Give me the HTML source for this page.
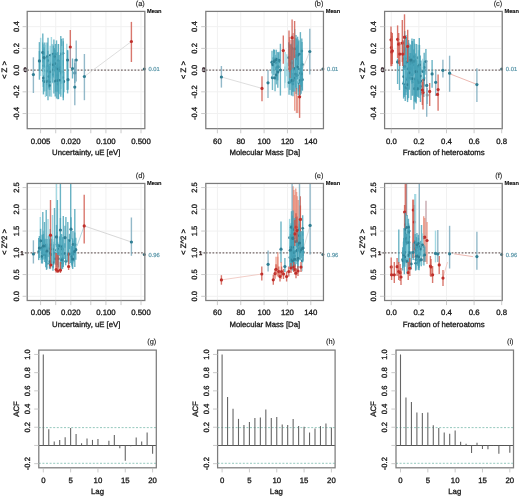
<!DOCTYPE html>
<html><head><meta charset="utf-8"><style>
html,body{margin:0;padding:0;background:#fff;}
svg{display:block;filter:blur(0.4px);text-rendering:geometricPrecision;}
</style></head><body>
<svg width="520" height="497" viewBox="0 0 520 497" font-family="'Liberation Sans', Arial, sans-serif">
<rect width="520" height="497" fill="#fff"/>
<line x1="40.60" y1="11.40" x2="40.60" y2="128.65" stroke="#f1f1f1" stroke-width="1"/>
<line x1="55.71" y1="11.40" x2="55.71" y2="128.65" stroke="#f1f1f1" stroke-width="1"/>
<line x1="70.82" y1="11.40" x2="70.82" y2="128.65" stroke="#f1f1f1" stroke-width="1"/>
<line x1="90.80" y1="11.40" x2="90.80" y2="128.65" stroke="#f1f1f1" stroke-width="1"/>
<line x1="105.91" y1="11.40" x2="105.91" y2="128.65" stroke="#f1f1f1" stroke-width="1"/>
<line x1="121.02" y1="11.40" x2="121.02" y2="128.65" stroke="#f1f1f1" stroke-width="1"/>
<line x1="141.00" y1="11.40" x2="141.00" y2="128.65" stroke="#f1f1f1" stroke-width="1"/>
<line x1="27.20" y1="113.54" x2="144.85" y2="113.54" stroke="#f1f1f1" stroke-width="1"/>
<line x1="27.20" y1="91.82" x2="144.85" y2="91.82" stroke="#f1f1f1" stroke-width="1"/>
<line x1="27.20" y1="70.10" x2="144.85" y2="70.10" stroke="#f1f1f1" stroke-width="1"/>
<line x1="27.20" y1="48.38" x2="144.85" y2="48.38" stroke="#f1f1f1" stroke-width="1"/>
<line x1="27.20" y1="26.66" x2="144.85" y2="26.66" stroke="#f1f1f1" stroke-width="1"/>
<line x1="27.20" y1="70.10" x2="144.85" y2="70.10" stroke="#756868" stroke-width="1.15" stroke-dasharray="1.7 1.65"/>
<text x="27.00" y="72.40" font-size="6.4" text-anchor="end" font-weight="bold" fill="#33222a" stroke="#33222a" stroke-width="0.5">0</text>
<circle cx="144.25" cy="69.01" r="1.5" fill="#3d6a75"/>
<text x="148.45" y="71.41" font-size="5.8" text-anchor="start" font-weight="normal" fill="#5694a7" stroke="#5694a7" stroke-width="0.2">0.01</text>
<line x1="84.40" y1="76.50" x2="131.40" y2="41.50" stroke="#dadada" stroke-width="0.9"/>
<line x1="45.82" y1="66.09" x2="45.82" y2="91.26" stroke="#46a1b7" stroke-width="1.4" stroke-opacity="0.82"/>
<circle cx="45.82" cy="80.97" r="1.3" fill="#2f7e93"/>
<line x1="52.44" y1="59.40" x2="52.44" y2="83.35" stroke="#8ccfdc" stroke-width="1.4" stroke-opacity="0.82"/>
<circle cx="52.44" cy="74.50" r="1.3" fill="#2f7e93"/>
<line x1="60.55" y1="52.42" x2="60.55" y2="75.30" stroke="#46a1b7" stroke-width="1.4" stroke-opacity="0.82"/>
<circle cx="60.55" cy="67.28" r="1.3" fill="#2f7e93"/>
<line x1="58.15" y1="44.04" x2="58.15" y2="76.66" stroke="#8ccfdc" stroke-width="1.4" stroke-opacity="0.82"/>
<circle cx="58.15" cy="60.55" r="1.3" fill="#2f7e93"/>
<line x1="43.53" y1="54.41" x2="43.53" y2="82.30" stroke="#46a1b7" stroke-width="1.4" stroke-opacity="0.82"/>
<circle cx="43.53" cy="70.87" r="1.3" fill="#2f7e93"/>
<line x1="51.86" y1="43.96" x2="51.86" y2="65.90" stroke="#46a1b7" stroke-width="1.4" stroke-opacity="0.82"/>
<circle cx="51.86" cy="53.96" r="1.3" fill="#2f7e93"/>
<line x1="47.89" y1="50.65" x2="47.89" y2="72.76" stroke="#46a1b7" stroke-width="1.4" stroke-opacity="0.82"/>
<circle cx="47.89" cy="60.62" r="1.3" fill="#2f7e93"/>
<line x1="43.45" y1="67.63" x2="43.45" y2="94.42" stroke="#46a1b7" stroke-width="1.4" stroke-opacity="0.82"/>
<circle cx="43.45" cy="80.64" r="1.3" fill="#2f7e93"/>
<line x1="63.84" y1="72.29" x2="63.84" y2="92.37" stroke="#46a1b7" stroke-width="1.4" stroke-opacity="0.82"/>
<circle cx="63.84" cy="81.38" r="1.3" fill="#2f7e93"/>
<line x1="57.94" y1="72.10" x2="57.94" y2="99.37" stroke="#46a1b7" stroke-width="1.4" stroke-opacity="0.82"/>
<circle cx="57.94" cy="83.90" r="1.3" fill="#2f7e93"/>
<line x1="49.37" y1="56.45" x2="49.37" y2="88.01" stroke="#46a1b7" stroke-width="1.4" stroke-opacity="0.82"/>
<circle cx="49.37" cy="72.39" r="1.3" fill="#2f7e93"/>
<line x1="55.37" y1="43.95" x2="55.37" y2="69.32" stroke="#46a1b7" stroke-width="1.4" stroke-opacity="0.82"/>
<circle cx="55.37" cy="54.14" r="1.3" fill="#2f7e93"/>
<line x1="46.63" y1="56.78" x2="46.63" y2="85.18" stroke="#46a1b7" stroke-width="1.4" stroke-opacity="0.82"/>
<circle cx="46.63" cy="71.11" r="1.3" fill="#2f7e93"/>
<line x1="52.22" y1="54.77" x2="52.22" y2="82.47" stroke="#46a1b7" stroke-width="1.4" stroke-opacity="0.82"/>
<circle cx="52.22" cy="69.78" r="1.3" fill="#2f7e93"/>
<line x1="53.28" y1="45.58" x2="53.28" y2="68.31" stroke="#46a1b7" stroke-width="1.4" stroke-opacity="0.82"/>
<circle cx="53.28" cy="53.98" r="1.3" fill="#2f7e93"/>
<line x1="55.46" y1="56.46" x2="55.46" y2="78.51" stroke="#46a1b7" stroke-width="1.4" stroke-opacity="0.82"/>
<circle cx="55.46" cy="65.99" r="1.3" fill="#2f7e93"/>
<line x1="59.18" y1="55.06" x2="59.18" y2="80.90" stroke="#46a1b7" stroke-width="1.4" stroke-opacity="0.82"/>
<circle cx="59.18" cy="70.81" r="1.3" fill="#2f7e93"/>
<line x1="63.00" y1="59.94" x2="63.00" y2="82.49" stroke="#46a1b7" stroke-width="1.4" stroke-opacity="0.82"/>
<circle cx="63.00" cy="72.07" r="1.3" fill="#2f7e93"/>
<line x1="63.10" y1="38.14" x2="63.10" y2="68.57" stroke="#46a1b7" stroke-width="1.4" stroke-opacity="0.82"/>
<circle cx="63.10" cy="53.19" r="1.3" fill="#2f7e93"/>
<line x1="58.55" y1="67.03" x2="58.55" y2="92.75" stroke="#46a1b7" stroke-width="1.4" stroke-opacity="0.82"/>
<circle cx="58.55" cy="79.70" r="1.3" fill="#2f7e93"/>
<line x1="44.18" y1="68.58" x2="44.18" y2="91.51" stroke="#46a1b7" stroke-width="1.4" stroke-opacity="0.82"/>
<circle cx="44.18" cy="81.71" r="1.3" fill="#2f7e93"/>
<line x1="53.18" y1="53.66" x2="53.18" y2="77.62" stroke="#46a1b7" stroke-width="1.4" stroke-opacity="0.82"/>
<circle cx="53.18" cy="64.77" r="1.3" fill="#2f7e93"/>
<line x1="55.86" y1="59.87" x2="55.86" y2="78.19" stroke="#8ccfdc" stroke-width="1.4" stroke-opacity="0.82"/>
<circle cx="55.86" cy="68.12" r="1.3" fill="#2f7e93"/>
<line x1="55.27" y1="66.23" x2="55.27" y2="96.59" stroke="#46a1b7" stroke-width="1.4" stroke-opacity="0.82"/>
<circle cx="55.27" cy="81.41" r="1.3" fill="#2f7e93"/>
<line x1="48.36" y1="66.72" x2="48.36" y2="89.53" stroke="#8ccfdc" stroke-width="1.4" stroke-opacity="0.82"/>
<circle cx="48.36" cy="80.78" r="1.3" fill="#2f7e93"/>
<line x1="43.31" y1="67.69" x2="43.31" y2="86.92" stroke="#46a1b7" stroke-width="1.4" stroke-opacity="0.82"/>
<circle cx="43.31" cy="77.93" r="1.3" fill="#2f7e93"/>
<line x1="50.23" y1="45.86" x2="50.23" y2="68.04" stroke="#8ccfdc" stroke-width="1.4" stroke-opacity="0.82"/>
<circle cx="50.23" cy="55.29" r="1.3" fill="#2f7e93"/>
<line x1="48.73" y1="64.39" x2="48.73" y2="87.38" stroke="#46a1b7" stroke-width="1.4" stroke-opacity="0.82"/>
<circle cx="48.73" cy="76.48" r="1.3" fill="#2f7e93"/>
<line x1="43.50" y1="53.97" x2="43.50" y2="75.45" stroke="#8ccfdc" stroke-width="1.4" stroke-opacity="0.82"/>
<circle cx="43.50" cy="65.76" r="1.3" fill="#2f7e93"/>
<line x1="61.90" y1="59.95" x2="61.90" y2="83.28" stroke="#46a1b7" stroke-width="1.4" stroke-opacity="0.82"/>
<circle cx="61.90" cy="69.83" r="1.3" fill="#2f7e93"/>
<line x1="43.44" y1="44.27" x2="43.44" y2="68.06" stroke="#8ccfdc" stroke-width="1.4" stroke-opacity="0.82"/>
<circle cx="43.44" cy="53.59" r="1.3" fill="#2f7e93"/>
<line x1="57.80" y1="62.48" x2="57.80" y2="85.37" stroke="#46a1b7" stroke-width="1.4" stroke-opacity="0.82"/>
<circle cx="57.80" cy="75.38" r="1.3" fill="#2f7e93"/>
<line x1="59.75" y1="60.04" x2="59.75" y2="83.88" stroke="#46a1b7" stroke-width="1.4" stroke-opacity="0.82"/>
<circle cx="59.75" cy="70.05" r="1.3" fill="#2f7e93"/>
<line x1="55.09" y1="49.92" x2="55.09" y2="72.13" stroke="#46a1b7" stroke-width="1.4" stroke-opacity="0.82"/>
<circle cx="55.09" cy="63.60" r="1.3" fill="#2f7e93"/>
<line x1="63.33" y1="71.14" x2="63.33" y2="97.62" stroke="#46a1b7" stroke-width="1.4" stroke-opacity="0.82"/>
<circle cx="63.33" cy="81.89" r="1.3" fill="#2f7e93"/>
<line x1="62.73" y1="65.80" x2="62.73" y2="87.82" stroke="#8ccfdc" stroke-width="1.4" stroke-opacity="0.82"/>
<circle cx="62.73" cy="77.55" r="1.3" fill="#2f7e93"/>
<line x1="61.45" y1="38.88" x2="61.45" y2="70.91" stroke="#46a1b7" stroke-width="1.4" stroke-opacity="0.82"/>
<circle cx="61.45" cy="54.25" r="1.3" fill="#2f7e93"/>
<line x1="46.60" y1="64.87" x2="46.60" y2="95.97" stroke="#46a1b7" stroke-width="1.4" stroke-opacity="0.82"/>
<circle cx="46.60" cy="81.64" r="1.3" fill="#2f7e93"/>
<line x1="50.94" y1="54.60" x2="50.94" y2="78.52" stroke="#46a1b7" stroke-width="1.4" stroke-opacity="0.82"/>
<circle cx="50.94" cy="64.45" r="1.3" fill="#2f7e93"/>
<line x1="47.08" y1="42.45" x2="47.08" y2="67.11" stroke="#46a1b7" stroke-width="1.4" stroke-opacity="0.82"/>
<circle cx="47.08" cy="56.45" r="1.3" fill="#2f7e93"/>
<line x1="49.83" y1="65.67" x2="49.83" y2="89.93" stroke="#46a1b7" stroke-width="1.4" stroke-opacity="0.82"/>
<circle cx="49.83" cy="81.76" r="1.3" fill="#2f7e93"/>
<line x1="49.88" y1="70.53" x2="49.88" y2="96.62" stroke="#46a1b7" stroke-width="1.4" stroke-opacity="0.82"/>
<circle cx="49.88" cy="85.57" r="1.3" fill="#2f7e93"/>
<line x1="57.16" y1="64.25" x2="57.16" y2="91.74" stroke="#46a1b7" stroke-width="1.4" stroke-opacity="0.82"/>
<circle cx="57.16" cy="80.64" r="1.3" fill="#2f7e93"/>
<line x1="57.43" y1="52.12" x2="57.43" y2="79.10" stroke="#46a1b7" stroke-width="1.4" stroke-opacity="0.82"/>
<circle cx="57.43" cy="68.99" r="1.3" fill="#2f7e93"/>
<line x1="44.78" y1="42.40" x2="44.78" y2="68.52" stroke="#46a1b7" stroke-width="1.4" stroke-opacity="0.82"/>
<circle cx="44.78" cy="58.60" r="1.3" fill="#2f7e93"/>
<line x1="55.60" y1="69.44" x2="55.60" y2="91.82" stroke="#46a1b7" stroke-width="1.4" stroke-opacity="0.82"/>
<circle cx="55.60" cy="80.76" r="1.3" fill="#2f7e93"/>
<line x1="61.22" y1="56.34" x2="61.22" y2="88.92" stroke="#8ccfdc" stroke-width="1.4" stroke-opacity="0.82"/>
<circle cx="61.22" cy="72.93" r="1.3" fill="#2f7e93"/>
<line x1="54.57" y1="48.09" x2="54.57" y2="65.10" stroke="#46a1b7" stroke-width="1.4" stroke-opacity="0.82"/>
<circle cx="54.57" cy="56.44" r="1.3" fill="#2f7e93"/>
<line x1="59.55" y1="69.27" x2="59.55" y2="93.88" stroke="#46a1b7" stroke-width="1.4" stroke-opacity="0.82"/>
<circle cx="59.55" cy="80.34" r="1.3" fill="#2f7e93"/>
<line x1="50.94" y1="61.82" x2="50.94" y2="80.57" stroke="#46a1b7" stroke-width="1.4" stroke-opacity="0.82"/>
<circle cx="50.94" cy="71.84" r="1.3" fill="#2f7e93"/>
<line x1="61.71" y1="55.30" x2="61.71" y2="83.75" stroke="#46a1b7" stroke-width="1.4" stroke-opacity="0.82"/>
<circle cx="61.71" cy="71.63" r="1.3" fill="#2f7e93"/>
<line x1="59.53" y1="72.20" x2="59.53" y2="94.35" stroke="#8ccfdc" stroke-width="1.4" stroke-opacity="0.82"/>
<circle cx="59.53" cy="80.32" r="1.3" fill="#2f7e93"/>
<line x1="39.40" y1="42.10" x2="39.40" y2="79.70" stroke="#46a1b7" stroke-width="1.4" stroke-opacity="0.8"/>
<line x1="40.60" y1="37.80" x2="40.60" y2="76.00" stroke="#8ccfdc" stroke-width="1.4" stroke-opacity="0.8"/>
<line x1="42.80" y1="33.50" x2="42.80" y2="69.40" stroke="#46a1b7" stroke-width="1.4" stroke-opacity="0.8"/>
<line x1="48.00" y1="37.80" x2="48.00" y2="100.20" stroke="#46a1b7" stroke-width="1.4" stroke-opacity="0.8"/>
<line x1="51.40" y1="37.00" x2="51.40" y2="96.80" stroke="#8ccfdc" stroke-width="1.4" stroke-opacity="0.8"/>
<line x1="53.90" y1="39.50" x2="53.90" y2="93.40" stroke="#46a1b7" stroke-width="1.4" stroke-opacity="0.8"/>
<line x1="56.50" y1="40.40" x2="56.50" y2="98.50" stroke="#46a1b7" stroke-width="1.4" stroke-opacity="0.8"/>
<line x1="60.80" y1="36.10" x2="60.80" y2="96.80" stroke="#46a1b7" stroke-width="1.4" stroke-opacity="0.8"/>
<line x1="63.30" y1="41.20" x2="63.30" y2="100.20" stroke="#46a1b7" stroke-width="1.4" stroke-opacity="0.8"/>
<line x1="66.80" y1="43.80" x2="66.80" y2="90.00" stroke="#8ccfdc" stroke-width="1.4" stroke-opacity="0.8"/>
<line x1="67.60" y1="50.60" x2="67.60" y2="93.40" stroke="#46a1b7" stroke-width="1.4" stroke-opacity="0.8"/>
<line x1="45.50" y1="45.00" x2="45.50" y2="97.00" stroke="#8ccfdc" stroke-width="1.4" stroke-opacity="0.8"/>
<line x1="58.50" y1="44.00" x2="58.50" y2="99.00" stroke="#46a1b7" stroke-width="1.4" stroke-opacity="0.8"/>
<line x1="62.00" y1="46.00" x2="62.00" y2="95.00" stroke="#8ccfdc" stroke-width="1.4" stroke-opacity="0.8"/>
<line x1="33.40" y1="57.30" x2="33.40" y2="93.00" stroke="#78a8bb" stroke-width="1.4" stroke-opacity="0.8"/>
<circle cx="33.40" cy="74.60" r="1.6" fill="#2f7e93"/>
<line x1="39.40" y1="50.90" x2="39.40" y2="70.90" stroke="#46a1b7" stroke-width="1.4" stroke-opacity="0.8"/>
<circle cx="39.40" cy="60.90" r="1.6" fill="#2f7e93"/>
<line x1="42.80" y1="42.40" x2="42.80" y2="62.40" stroke="#46a1b7" stroke-width="1.4" stroke-opacity="0.8"/>
<circle cx="42.80" cy="52.40" r="1.6" fill="#2f7e93"/>
<line x1="44.00" y1="47.50" x2="44.00" y2="67.50" stroke="#46a1b7" stroke-width="1.4" stroke-opacity="0.8"/>
<circle cx="44.00" cy="57.50" r="1.6" fill="#2f7e93"/>
<line x1="67.60" y1="50.00" x2="67.60" y2="70.00" stroke="#46a1b7" stroke-width="1.4" stroke-opacity="0.8"/>
<circle cx="67.60" cy="60.00" r="1.6" fill="#2f7e93"/>
<line x1="68.00" y1="69.70" x2="68.00" y2="89.70" stroke="#46a1b7" stroke-width="1.4" stroke-opacity="0.8"/>
<circle cx="68.00" cy="79.70" r="1.6" fill="#2f7e93"/>
<line x1="74.80" y1="62.90" x2="74.80" y2="82.90" stroke="#46a1b7" stroke-width="1.4" stroke-opacity="0.8"/>
<circle cx="74.80" cy="72.90" r="1.6" fill="#2f7e93"/>
<line x1="72.50" y1="58.50" x2="72.50" y2="78.50" stroke="#46a1b7" stroke-width="1.4" stroke-opacity="0.8"/>
<circle cx="72.50" cy="68.50" r="1.6" fill="#2f7e93"/>
<line x1="76.20" y1="40.40" x2="76.20" y2="81.40" stroke="#78a8bb" stroke-width="1.4" stroke-opacity="0.8"/>
<circle cx="76.20" cy="60.00" r="1.6" fill="#2f7e93"/>
<line x1="74.80" y1="59.20" x2="74.80" y2="105.30" stroke="#78a8bb" stroke-width="1.4" stroke-opacity="0.8"/>
<circle cx="74.80" cy="87.10" r="1.6" fill="#2f7e93"/>
<line x1="84.40" y1="54.00" x2="84.40" y2="100.20" stroke="#78a8bb" stroke-width="1.4" stroke-opacity="0.8"/>
<circle cx="84.40" cy="76.50" r="1.6" fill="#2f7e93"/>
<line x1="70.30" y1="46.00" x2="70.30" y2="68.00" stroke="#9a6a78" stroke-width="1.4" stroke-opacity="0.7"/>
<line x1="70.30" y1="30.10" x2="70.30" y2="48.00" stroke="#d05548" stroke-width="1.4" stroke-opacity="0.8"/>
<circle cx="70.30" cy="47.00" r="1.6" fill="#bf2f2b"/>
<line x1="131.40" y1="21.90" x2="131.40" y2="62.00" stroke="#d05548" stroke-width="1.4" stroke-opacity="0.8"/>
<circle cx="131.40" cy="41.50" r="1.6" fill="#bf2f2b"/>
<rect x="27.20" y="11.40" width="117.65" height="117.25" fill="none" stroke="#7c7c7c" stroke-width="1.25"/>
<line x1="40.60" y1="128.65" x2="40.60" y2="133.25" stroke="#bdbdbd" stroke-width="0.8"/>
<line x1="55.71" y1="128.65" x2="55.71" y2="133.25" stroke="#bdbdbd" stroke-width="0.8"/>
<line x1="70.82" y1="128.65" x2="70.82" y2="133.25" stroke="#bdbdbd" stroke-width="0.8"/>
<line x1="90.80" y1="128.65" x2="90.80" y2="133.25" stroke="#bdbdbd" stroke-width="0.8"/>
<line x1="105.91" y1="128.65" x2="105.91" y2="133.25" stroke="#bdbdbd" stroke-width="0.8"/>
<line x1="121.02" y1="128.65" x2="121.02" y2="133.25" stroke="#bdbdbd" stroke-width="0.8"/>
<line x1="141.00" y1="128.65" x2="141.00" y2="133.25" stroke="#bdbdbd" stroke-width="0.8"/>
<text x="40.60" y="143.50" font-size="7.8" text-anchor="middle" font-weight="normal" fill="#1a1a1a" stroke="#1a1a1a" stroke-width="0.32">0.005</text>
<text x="70.82" y="143.50" font-size="7.8" text-anchor="middle" font-weight="normal" fill="#1a1a1a" stroke="#1a1a1a" stroke-width="0.32">0.020</text>
<text x="105.91" y="143.50" font-size="7.8" text-anchor="middle" font-weight="normal" fill="#1a1a1a" stroke="#1a1a1a" stroke-width="0.32">0.100</text>
<text x="141.00" y="143.50" font-size="7.8" text-anchor="middle" font-weight="normal" fill="#1a1a1a" stroke="#1a1a1a" stroke-width="0.32">0.500</text>
<text x="86.22" y="154.65" font-size="7.75" text-anchor="middle" font-weight="normal" fill="#1a1a1a" stroke="#1a1a1a" stroke-width="0.32">Uncertainty, uE [eV]</text>
<line x1="22.60" y1="113.54" x2="27.20" y2="113.54" stroke="#bdbdbd" stroke-width="0.8"/>
<text x="18.60" y="113.54" font-size="7.6" text-anchor="middle" font-weight="normal" fill="#1a1a1a" stroke="#1a1a1a" stroke-width="0.32" transform="rotate(-90 18.60 113.54)">-0.4</text>
<line x1="22.60" y1="91.82" x2="27.20" y2="91.82" stroke="#bdbdbd" stroke-width="0.8"/>
<text x="18.60" y="91.82" font-size="7.6" text-anchor="middle" font-weight="normal" fill="#1a1a1a" stroke="#1a1a1a" stroke-width="0.32" transform="rotate(-90 18.60 91.82)">-0.2</text>
<line x1="22.60" y1="70.10" x2="27.20" y2="70.10" stroke="#bdbdbd" stroke-width="0.8"/>
<text x="18.60" y="70.10" font-size="7.6" text-anchor="middle" font-weight="normal" fill="#1a1a1a" stroke="#1a1a1a" stroke-width="0.32" transform="rotate(-90 18.60 70.10)">0.0</text>
<line x1="22.60" y1="48.38" x2="27.20" y2="48.38" stroke="#bdbdbd" stroke-width="0.8"/>
<text x="18.60" y="48.38" font-size="7.6" text-anchor="middle" font-weight="normal" fill="#1a1a1a" stroke="#1a1a1a" stroke-width="0.32" transform="rotate(-90 18.60 48.38)">0.2</text>
<line x1="22.60" y1="26.66" x2="27.20" y2="26.66" stroke="#bdbdbd" stroke-width="0.8"/>
<text x="18.60" y="26.66" font-size="7.6" text-anchor="middle" font-weight="normal" fill="#1a1a1a" stroke="#1a1a1a" stroke-width="0.32" transform="rotate(-90 18.60 26.66)">0.4</text>
<text x="7.20" y="70.03" font-size="7.8" text-anchor="middle" font-weight="normal" fill="#1a1a1a" stroke="#1a1a1a" stroke-width="0.32" transform="rotate(-90 7.20 70.03)">&lt; Z &gt;</text>
<text x="144.85" y="5.50" font-size="7.4" text-anchor="end" font-weight="normal" fill="#1a1a1a" stroke="#1a1a1a" stroke-width="0.12">(a)</text>
<text x="147.05" y="13.40" font-size="5.7" text-anchor="start" font-weight="bold" fill="#111" stroke="#111" stroke-width="0.12">Mean</text>
<line x1="40.60" y1="183.45" x2="40.60" y2="300.50" stroke="#f1f1f1" stroke-width="1"/>
<line x1="55.71" y1="183.45" x2="55.71" y2="300.50" stroke="#f1f1f1" stroke-width="1"/>
<line x1="70.82" y1="183.45" x2="70.82" y2="300.50" stroke="#f1f1f1" stroke-width="1"/>
<line x1="90.80" y1="183.45" x2="90.80" y2="300.50" stroke="#f1f1f1" stroke-width="1"/>
<line x1="105.91" y1="183.45" x2="105.91" y2="300.50" stroke="#f1f1f1" stroke-width="1"/>
<line x1="121.02" y1="183.45" x2="121.02" y2="300.50" stroke="#f1f1f1" stroke-width="1"/>
<line x1="141.00" y1="183.45" x2="141.00" y2="300.50" stroke="#f1f1f1" stroke-width="1"/>
<line x1="27.20" y1="296.30" x2="144.85" y2="296.30" stroke="#f1f1f1" stroke-width="1"/>
<line x1="27.20" y1="274.55" x2="144.85" y2="274.55" stroke="#f1f1f1" stroke-width="1"/>
<line x1="27.20" y1="252.80" x2="144.85" y2="252.80" stroke="#f1f1f1" stroke-width="1"/>
<line x1="27.20" y1="231.05" x2="144.85" y2="231.05" stroke="#f1f1f1" stroke-width="1"/>
<line x1="27.20" y1="209.30" x2="144.85" y2="209.30" stroke="#f1f1f1" stroke-width="1"/>
<line x1="27.20" y1="187.55" x2="144.85" y2="187.55" stroke="#f1f1f1" stroke-width="1"/>
<line x1="27.20" y1="252.80" x2="144.85" y2="252.80" stroke="#756868" stroke-width="1.15" stroke-dasharray="1.7 1.65"/>
<text x="23.60" y="254.70" font-size="5.6" text-anchor="end" font-weight="bold" fill="#2a1a1a" stroke="#2a1a1a" stroke-width="0.35">1</text>
<line x1="25.00" y1="252.80" x2="27.20" y2="252.80" stroke="#2a1a1a" stroke-width="1.2"/>
<circle cx="144.25" cy="254.54" r="1.5" fill="#3d6a75"/>
<text x="148.45" y="256.94" font-size="5.8" text-anchor="start" font-weight="normal" fill="#5694a7" stroke="#5694a7" stroke-width="0.2">0.96</text>
<line x1="84.20" y1="225.90" x2="131.40" y2="242.00" stroke="#d4d4d4" stroke-width="0.9"/>
<line x1="84.20" y1="225.90" x2="77.00" y2="246.00" stroke="#a9d3dd" stroke-width="0.9"/>
<line x1="62.55" y1="256.39" x2="62.55" y2="267.47" stroke="#46a1b7" stroke-width="1.4" stroke-opacity="0.82"/>
<circle cx="62.55" cy="262.96" r="1.3" fill="#2f7e93"/>
<line x1="56.40" y1="238.10" x2="56.40" y2="257.80" stroke="#8ccfdc" stroke-width="1.4" stroke-opacity="0.82"/>
<circle cx="56.40" cy="250.16" r="1.3" fill="#2f7e93"/>
<line x1="51.26" y1="238.64" x2="51.26" y2="261.84" stroke="#46a1b7" stroke-width="1.4" stroke-opacity="0.82"/>
<circle cx="51.26" cy="251.87" r="1.3" fill="#2f7e93"/>
<line x1="51.56" y1="243.01" x2="51.56" y2="253.53" stroke="#46a1b7" stroke-width="1.4" stroke-opacity="0.82"/>
<circle cx="51.56" cy="249.36" r="1.3" fill="#2f7e93"/>
<line x1="50.17" y1="250.58" x2="50.17" y2="269.20" stroke="#8ccfdc" stroke-width="1.4" stroke-opacity="0.82"/>
<circle cx="50.17" cy="261.84" r="1.3" fill="#2f7e93"/>
<line x1="48.99" y1="235.63" x2="48.99" y2="256.73" stroke="#46a1b7" stroke-width="1.4" stroke-opacity="0.82"/>
<circle cx="48.99" cy="246.73" r="1.3" fill="#2f7e93"/>
<line x1="61.21" y1="246.59" x2="61.21" y2="269.37" stroke="#46a1b7" stroke-width="1.4" stroke-opacity="0.82"/>
<circle cx="61.21" cy="259.94" r="1.3" fill="#2f7e93"/>
<line x1="49.61" y1="248.00" x2="49.61" y2="268.59" stroke="#46a1b7" stroke-width="1.4" stroke-opacity="0.82"/>
<circle cx="49.61" cy="263.62" r="1.3" fill="#2f7e93"/>
<line x1="51.92" y1="243.71" x2="51.92" y2="264.16" stroke="#46a1b7" stroke-width="1.4" stroke-opacity="0.82"/>
<circle cx="51.92" cy="254.61" r="1.3" fill="#2f7e93"/>
<line x1="49.61" y1="246.66" x2="49.61" y2="268.42" stroke="#46a1b7" stroke-width="1.4" stroke-opacity="0.82"/>
<circle cx="49.61" cy="261.66" r="1.3" fill="#2f7e93"/>
<line x1="57.56" y1="245.51" x2="57.56" y2="259.68" stroke="#8ccfdc" stroke-width="1.4" stroke-opacity="0.82"/>
<circle cx="57.56" cy="253.73" r="1.3" fill="#2f7e93"/>
<line x1="61.52" y1="234.25" x2="61.52" y2="255.22" stroke="#46a1b7" stroke-width="1.4" stroke-opacity="0.82"/>
<circle cx="61.52" cy="249.36" r="1.3" fill="#2f7e93"/>
<line x1="52.84" y1="241.84" x2="52.84" y2="261.88" stroke="#46a1b7" stroke-width="1.4" stroke-opacity="0.82"/>
<circle cx="52.84" cy="254.35" r="1.3" fill="#2f7e93"/>
<line x1="53.01" y1="250.45" x2="53.01" y2="267.14" stroke="#46a1b7" stroke-width="1.4" stroke-opacity="0.82"/>
<circle cx="53.01" cy="262.68" r="1.3" fill="#2f7e93"/>
<line x1="61.51" y1="234.38" x2="61.51" y2="252.18" stroke="#46a1b7" stroke-width="1.4" stroke-opacity="0.82"/>
<circle cx="61.51" cy="247.83" r="1.3" fill="#2f7e93"/>
<line x1="46.87" y1="254.45" x2="46.87" y2="268.64" stroke="#46a1b7" stroke-width="1.4" stroke-opacity="0.82"/>
<circle cx="46.87" cy="261.51" r="1.3" fill="#2f7e93"/>
<line x1="46.53" y1="251.38" x2="46.53" y2="269.91" stroke="#46a1b7" stroke-width="1.4" stroke-opacity="0.82"/>
<circle cx="46.53" cy="261.61" r="1.3" fill="#2f7e93"/>
<line x1="45.70" y1="250.63" x2="45.70" y2="267.18" stroke="#46a1b7" stroke-width="1.4" stroke-opacity="0.82"/>
<circle cx="45.70" cy="257.46" r="1.3" fill="#2f7e93"/>
<line x1="42.45" y1="234.98" x2="42.45" y2="254.06" stroke="#46a1b7" stroke-width="1.4" stroke-opacity="0.82"/>
<circle cx="42.45" cy="249.11" r="1.3" fill="#2f7e93"/>
<line x1="50.29" y1="228.96" x2="50.29" y2="249.77" stroke="#46a1b7" stroke-width="1.4" stroke-opacity="0.82"/>
<circle cx="50.29" cy="244.86" r="1.3" fill="#2f7e93"/>
<line x1="55.23" y1="251.72" x2="55.23" y2="264.87" stroke="#46a1b7" stroke-width="1.4" stroke-opacity="0.82"/>
<circle cx="55.23" cy="258.85" r="1.3" fill="#2f7e93"/>
<line x1="58.47" y1="243.78" x2="58.47" y2="267.33" stroke="#46a1b7" stroke-width="1.4" stroke-opacity="0.82"/>
<circle cx="58.47" cy="258.80" r="1.3" fill="#2f7e93"/>
<line x1="52.16" y1="235.90" x2="52.16" y2="254.41" stroke="#46a1b7" stroke-width="1.4" stroke-opacity="0.82"/>
<circle cx="52.16" cy="248.51" r="1.3" fill="#2f7e93"/>
<line x1="60.81" y1="234.70" x2="60.81" y2="252.91" stroke="#8ccfdc" stroke-width="1.4" stroke-opacity="0.82"/>
<circle cx="60.81" cy="246.55" r="1.3" fill="#2f7e93"/>
<line x1="62.63" y1="237.12" x2="62.63" y2="255.70" stroke="#46a1b7" stroke-width="1.4" stroke-opacity="0.82"/>
<circle cx="62.63" cy="249.18" r="1.3" fill="#2f7e93"/>
<line x1="45.02" y1="238.80" x2="45.02" y2="250.10" stroke="#46a1b7" stroke-width="1.4" stroke-opacity="0.82"/>
<circle cx="45.02" cy="245.14" r="1.3" fill="#2f7e93"/>
<line x1="52.93" y1="248.33" x2="52.93" y2="270.70" stroke="#46a1b7" stroke-width="1.4" stroke-opacity="0.82"/>
<circle cx="52.93" cy="263.67" r="1.3" fill="#2f7e93"/>
<line x1="47.39" y1="243.58" x2="47.39" y2="264.63" stroke="#46a1b7" stroke-width="1.4" stroke-opacity="0.82"/>
<circle cx="47.39" cy="255.82" r="1.3" fill="#2f7e93"/>
<line x1="51.09" y1="248.48" x2="51.09" y2="258.74" stroke="#8ccfdc" stroke-width="1.4" stroke-opacity="0.82"/>
<circle cx="51.09" cy="254.52" r="1.3" fill="#2f7e93"/>
<line x1="57.56" y1="241.82" x2="57.56" y2="253.91" stroke="#46a1b7" stroke-width="1.4" stroke-opacity="0.82"/>
<circle cx="57.56" cy="248.82" r="1.3" fill="#2f7e93"/>
<line x1="53.20" y1="244.19" x2="53.20" y2="261.14" stroke="#46a1b7" stroke-width="1.4" stroke-opacity="0.82"/>
<circle cx="53.20" cy="253.29" r="1.3" fill="#2f7e93"/>
<line x1="62.71" y1="248.24" x2="62.71" y2="265.65" stroke="#8ccfdc" stroke-width="1.4" stroke-opacity="0.82"/>
<circle cx="62.71" cy="258.58" r="1.3" fill="#2f7e93"/>
<line x1="50.99" y1="246.69" x2="50.99" y2="259.06" stroke="#46a1b7" stroke-width="1.4" stroke-opacity="0.82"/>
<circle cx="50.99" cy="254.50" r="1.3" fill="#2f7e93"/>
<line x1="53.16" y1="250.32" x2="53.16" y2="268.17" stroke="#46a1b7" stroke-width="1.4" stroke-opacity="0.82"/>
<circle cx="53.16" cy="262.43" r="1.3" fill="#2f7e93"/>
<line x1="42.41" y1="250.69" x2="42.41" y2="263.54" stroke="#46a1b7" stroke-width="1.4" stroke-opacity="0.82"/>
<circle cx="42.41" cy="257.71" r="1.3" fill="#2f7e93"/>
<line x1="42.34" y1="242.92" x2="42.34" y2="259.94" stroke="#46a1b7" stroke-width="1.4" stroke-opacity="0.82"/>
<circle cx="42.34" cy="253.03" r="1.3" fill="#2f7e93"/>
<line x1="43.59" y1="239.96" x2="43.59" y2="259.30" stroke="#46a1b7" stroke-width="1.4" stroke-opacity="0.82"/>
<circle cx="43.59" cy="249.69" r="1.3" fill="#2f7e93"/>
<line x1="46.14" y1="245.51" x2="46.14" y2="262.21" stroke="#46a1b7" stroke-width="1.4" stroke-opacity="0.82"/>
<circle cx="46.14" cy="255.43" r="1.3" fill="#2f7e93"/>
<line x1="44.62" y1="239.63" x2="44.62" y2="255.54" stroke="#46a1b7" stroke-width="1.4" stroke-opacity="0.82"/>
<circle cx="44.62" cy="246.44" r="1.3" fill="#2f7e93"/>
<line x1="56.89" y1="231.90" x2="56.89" y2="253.16" stroke="#46a1b7" stroke-width="1.4" stroke-opacity="0.82"/>
<circle cx="56.89" cy="244.49" r="1.3" fill="#2f7e93"/>
<line x1="49.69" y1="239.15" x2="49.69" y2="258.75" stroke="#46a1b7" stroke-width="1.4" stroke-opacity="0.82"/>
<circle cx="49.69" cy="253.14" r="1.3" fill="#2f7e93"/>
<line x1="62.53" y1="244.77" x2="62.53" y2="269.10" stroke="#46a1b7" stroke-width="1.4" stroke-opacity="0.82"/>
<circle cx="62.53" cy="260.09" r="1.3" fill="#2f7e93"/>
<line x1="52.51" y1="238.91" x2="52.51" y2="257.26" stroke="#46a1b7" stroke-width="1.4" stroke-opacity="0.82"/>
<circle cx="52.51" cy="249.19" r="1.3" fill="#2f7e93"/>
<line x1="59.58" y1="236.36" x2="59.58" y2="255.91" stroke="#46a1b7" stroke-width="1.4" stroke-opacity="0.82"/>
<circle cx="59.58" cy="245.92" r="1.3" fill="#2f7e93"/>
<line x1="43.44" y1="230.77" x2="43.44" y2="255.65" stroke="#8ccfdc" stroke-width="1.4" stroke-opacity="0.82"/>
<circle cx="43.44" cy="245.72" r="1.3" fill="#2f7e93"/>
<line x1="48.37" y1="235.93" x2="48.37" y2="256.72" stroke="#46a1b7" stroke-width="1.4" stroke-opacity="0.82"/>
<circle cx="48.37" cy="248.63" r="1.3" fill="#2f7e93"/>
<line x1="38.67" y1="237.97" x2="38.67" y2="260.11" stroke="#46a1b7" stroke-width="1.4" stroke-opacity="0.82"/>
<circle cx="38.67" cy="251.57" r="1.3" fill="#2f7e93"/>
<line x1="42.29" y1="234.44" x2="42.29" y2="254.37" stroke="#46a1b7" stroke-width="1.4" stroke-opacity="0.82"/>
<circle cx="42.29" cy="247.60" r="1.3" fill="#2f7e93"/>
<line x1="43.97" y1="244.37" x2="43.97" y2="259.83" stroke="#8ccfdc" stroke-width="1.4" stroke-opacity="0.82"/>
<circle cx="43.97" cy="254.96" r="1.3" fill="#2f7e93"/>
<line x1="41.57" y1="248.90" x2="41.57" y2="263.41" stroke="#46a1b7" stroke-width="1.4" stroke-opacity="0.82"/>
<circle cx="41.57" cy="256.35" r="1.3" fill="#2f7e93"/>
<line x1="72.24" y1="247.55" x2="72.24" y2="267.44" stroke="#46a1b7" stroke-width="1.4" stroke-opacity="0.82"/>
<circle cx="72.24" cy="260.61" r="1.3" fill="#2f7e93"/>
<line x1="72.69" y1="240.87" x2="72.69" y2="263.60" stroke="#46a1b7" stroke-width="1.4" stroke-opacity="0.82"/>
<circle cx="72.69" cy="254.49" r="1.3" fill="#2f7e93"/>
<line x1="68.24" y1="238.90" x2="68.24" y2="262.48" stroke="#46a1b7" stroke-width="1.4" stroke-opacity="0.82"/>
<circle cx="68.24" cy="254.67" r="1.3" fill="#2f7e93"/>
<line x1="72.25" y1="246.93" x2="72.25" y2="266.05" stroke="#46a1b7" stroke-width="1.4" stroke-opacity="0.82"/>
<circle cx="72.25" cy="259.43" r="1.3" fill="#2f7e93"/>
<line x1="72.48" y1="238.29" x2="72.48" y2="262.65" stroke="#46a1b7" stroke-width="1.4" stroke-opacity="0.82"/>
<circle cx="72.48" cy="253.34" r="1.3" fill="#2f7e93"/>
<line x1="72.97" y1="230.95" x2="72.97" y2="251.91" stroke="#46a1b7" stroke-width="1.4" stroke-opacity="0.82"/>
<circle cx="72.97" cy="244.39" r="1.3" fill="#2f7e93"/>
<line x1="64.79" y1="243.13" x2="64.79" y2="258.99" stroke="#46a1b7" stroke-width="1.4" stroke-opacity="0.82"/>
<circle cx="64.79" cy="253.47" r="1.3" fill="#2f7e93"/>
<line x1="65.66" y1="254.54" x2="65.66" y2="265.29" stroke="#46a1b7" stroke-width="1.4" stroke-opacity="0.82"/>
<circle cx="65.66" cy="261.27" r="1.3" fill="#2f7e93"/>
<line x1="71.56" y1="245.75" x2="71.56" y2="264.65" stroke="#46a1b7" stroke-width="1.4" stroke-opacity="0.82"/>
<circle cx="71.56" cy="256.60" r="1.3" fill="#2f7e93"/>
<line x1="69.54" y1="233.81" x2="69.54" y2="249.13" stroke="#46a1b7" stroke-width="1.4" stroke-opacity="0.82"/>
<circle cx="69.54" cy="240.61" r="1.3" fill="#2f7e93"/>
<line x1="40.30" y1="217.00" x2="40.30" y2="260.00" stroke="#8ccfdc" stroke-width="1.4" stroke-opacity="0.8"/>
<line x1="42.80" y1="212.00" x2="42.80" y2="253.00" stroke="#46a1b7" stroke-width="1.4" stroke-opacity="0.8"/>
<line x1="46.20" y1="210.00" x2="46.20" y2="263.00" stroke="#46a1b7" stroke-width="1.4" stroke-opacity="0.8"/>
<line x1="48.00" y1="219.00" x2="48.00" y2="263.00" stroke="#8ccfdc" stroke-width="1.4" stroke-opacity="0.8"/>
<line x1="56.50" y1="184.00" x2="56.50" y2="267.00" stroke="#8ccfdc" stroke-width="1.4" stroke-opacity="0.8"/>
<line x1="57.40" y1="200.00" x2="57.40" y2="265.00" stroke="#46a1b7" stroke-width="1.4" stroke-opacity="0.8"/>
<line x1="60.40" y1="184.00" x2="60.40" y2="270.00" stroke="#46a1b7" stroke-width="1.4" stroke-opacity="0.8"/>
<line x1="63.30" y1="216.00" x2="63.30" y2="267.00" stroke="#46a1b7" stroke-width="1.4" stroke-opacity="0.8"/>
<line x1="65.90" y1="217.00" x2="65.90" y2="263.00" stroke="#46a1b7" stroke-width="1.4" stroke-opacity="0.8"/>
<line x1="70.70" y1="184.00" x2="70.70" y2="263.00" stroke="#46a1b7" stroke-width="1.4" stroke-opacity="0.8"/>
<line x1="74.80" y1="209.00" x2="74.80" y2="267.00" stroke="#46a1b7" stroke-width="1.4" stroke-opacity="0.8"/>
<line x1="44.50" y1="222.00" x2="44.50" y2="262.00" stroke="#46a1b7" stroke-width="1.4" stroke-opacity="0.8"/>
<line x1="52.50" y1="215.00" x2="52.50" y2="266.00" stroke="#8ccfdc" stroke-width="1.4" stroke-opacity="0.8"/>
<line x1="54.50" y1="208.00" x2="54.50" y2="262.00" stroke="#46a1b7" stroke-width="1.4" stroke-opacity="0.8"/>
<line x1="67.80" y1="222.00" x2="67.80" y2="262.00" stroke="#46a1b7" stroke-width="1.4" stroke-opacity="0.8"/>
<line x1="33.40" y1="240.30" x2="33.40" y2="263.50" stroke="#78a8bb" stroke-width="1.4" stroke-opacity="0.8"/>
<circle cx="33.40" cy="254.00" r="1.6" fill="#2f7e93"/>
<line x1="40.60" y1="228.80" x2="40.60" y2="250.80" stroke="#46a1b7" stroke-width="1.4" stroke-opacity="0.8"/>
<circle cx="40.60" cy="240.80" r="1.6" fill="#2f7e93"/>
<line x1="39.40" y1="236.00" x2="39.40" y2="258.00" stroke="#46a1b7" stroke-width="1.4" stroke-opacity="0.8"/>
<circle cx="39.40" cy="248.00" r="1.6" fill="#2f7e93"/>
<line x1="56.50" y1="224.90" x2="56.50" y2="246.90" stroke="#46a1b7" stroke-width="1.4" stroke-opacity="0.8"/>
<circle cx="56.50" cy="236.90" r="1.6" fill="#2f7e93"/>
<line x1="60.40" y1="218.00" x2="60.40" y2="240.00" stroke="#46a1b7" stroke-width="1.4" stroke-opacity="0.8"/>
<circle cx="60.40" cy="230.00" r="1.6" fill="#2f7e93"/>
<line x1="65.00" y1="225.70" x2="65.00" y2="247.70" stroke="#46a1b7" stroke-width="1.4" stroke-opacity="0.8"/>
<circle cx="65.00" cy="237.70" r="1.6" fill="#2f7e93"/>
<line x1="71.00" y1="217.20" x2="71.00" y2="239.20" stroke="#46a1b7" stroke-width="1.4" stroke-opacity="0.8"/>
<circle cx="71.00" cy="229.20" r="1.6" fill="#2f7e93"/>
<line x1="74.80" y1="232.60" x2="74.80" y2="254.60" stroke="#46a1b7" stroke-width="1.4" stroke-opacity="0.8"/>
<circle cx="74.80" cy="244.60" r="1.6" fill="#2f7e93"/>
<line x1="75.80" y1="237.70" x2="75.80" y2="259.70" stroke="#46a1b7" stroke-width="1.4" stroke-opacity="0.8"/>
<circle cx="75.80" cy="249.70" r="1.6" fill="#2f7e93"/>
<line x1="74.30" y1="239.50" x2="74.30" y2="261.50" stroke="#46a1b7" stroke-width="1.4" stroke-opacity="0.8"/>
<circle cx="74.30" cy="251.50" r="1.6" fill="#2f7e93"/>
<line x1="69.00" y1="242.00" x2="69.00" y2="264.00" stroke="#46a1b7" stroke-width="1.4" stroke-opacity="0.8"/>
<circle cx="69.00" cy="254.00" r="1.6" fill="#2f7e93"/>
<line x1="72.70" y1="247.00" x2="72.70" y2="269.00" stroke="#46a1b7" stroke-width="1.4" stroke-opacity="0.8"/>
<circle cx="72.70" cy="259.00" r="1.6" fill="#2f7e93"/>
<line x1="43.50" y1="234.00" x2="43.50" y2="256.00" stroke="#46a1b7" stroke-width="1.4" stroke-opacity="0.8"/>
<circle cx="43.50" cy="246.00" r="1.6" fill="#2f7e93"/>
<line x1="47.00" y1="239.00" x2="47.00" y2="261.00" stroke="#46a1b7" stroke-width="1.4" stroke-opacity="0.8"/>
<circle cx="47.00" cy="251.00" r="1.6" fill="#2f7e93"/>
<line x1="50.50" y1="200.00" x2="50.50" y2="268.50" stroke="#d05548" stroke-width="1.4" stroke-opacity="0.8"/>
<circle cx="50.50" cy="235.20" r="1.6" fill="#bf2f2b"/>
<circle cx="50.9" cy="265" r="1.6" fill="#bf2f2b"/>
<line x1="56.20" y1="253.00" x2="56.20" y2="272.50" stroke="#d05548" stroke-width="1.9" stroke-opacity="0.8"/>
<circle cx="56.20" cy="269.50" r="1.6" fill="#bf2f2b"/>
<line x1="57.80" y1="255.00" x2="57.80" y2="272.50" stroke="#d05548" stroke-width="1.9" stroke-opacity="0.8"/>
<circle cx="57.80" cy="271.00" r="1.6" fill="#bf2f2b"/>
<line x1="60.40" y1="262.00" x2="60.40" y2="273.00" stroke="#d05548" stroke-width="1.4" stroke-opacity="0.8"/>
<circle cx="60.40" cy="270.20" r="1.6" fill="#bf2f2b"/>
<line x1="68.60" y1="252.60" x2="68.60" y2="270.00" stroke="#d05548" stroke-width="1.4" stroke-opacity="0.8"/>
<circle cx="68.60" cy="266.50" r="1.6" fill="#bf2f2b"/>
<line x1="84.20" y1="194.80" x2="84.20" y2="243.60" stroke="#d05548" stroke-width="1.4" stroke-opacity="0.8"/>
<circle cx="84.20" cy="225.90" r="1.6" fill="#bf2f2b"/>
<line x1="131.40" y1="217.50" x2="131.40" y2="255.80" stroke="#78a8bb" stroke-width="1.4" stroke-opacity="0.8"/>
<circle cx="131.40" cy="242.00" r="1.6" fill="#2f7e93"/>
<rect x="27.20" y="183.45" width="117.65" height="117.05" fill="none" stroke="#7c7c7c" stroke-width="1.25"/>
<line x1="40.60" y1="300.50" x2="40.60" y2="305.10" stroke="#bdbdbd" stroke-width="0.8"/>
<line x1="55.71" y1="300.50" x2="55.71" y2="305.10" stroke="#bdbdbd" stroke-width="0.8"/>
<line x1="70.82" y1="300.50" x2="70.82" y2="305.10" stroke="#bdbdbd" stroke-width="0.8"/>
<line x1="90.80" y1="300.50" x2="90.80" y2="305.10" stroke="#bdbdbd" stroke-width="0.8"/>
<line x1="105.91" y1="300.50" x2="105.91" y2="305.10" stroke="#bdbdbd" stroke-width="0.8"/>
<line x1="121.02" y1="300.50" x2="121.02" y2="305.10" stroke="#bdbdbd" stroke-width="0.8"/>
<line x1="141.00" y1="300.50" x2="141.00" y2="305.10" stroke="#bdbdbd" stroke-width="0.8"/>
<text x="40.60" y="315.35" font-size="7.8" text-anchor="middle" font-weight="normal" fill="#1a1a1a" stroke="#1a1a1a" stroke-width="0.32">0.005</text>
<text x="70.82" y="315.35" font-size="7.8" text-anchor="middle" font-weight="normal" fill="#1a1a1a" stroke="#1a1a1a" stroke-width="0.32">0.020</text>
<text x="105.91" y="315.35" font-size="7.8" text-anchor="middle" font-weight="normal" fill="#1a1a1a" stroke="#1a1a1a" stroke-width="0.32">0.100</text>
<text x="141.00" y="315.35" font-size="7.8" text-anchor="middle" font-weight="normal" fill="#1a1a1a" stroke="#1a1a1a" stroke-width="0.32">0.500</text>
<text x="86.22" y="326.50" font-size="7.75" text-anchor="middle" font-weight="normal" fill="#1a1a1a" stroke="#1a1a1a" stroke-width="0.32">Uncertainty, uE [eV]</text>
<line x1="22.60" y1="296.30" x2="27.20" y2="296.30" stroke="#bdbdbd" stroke-width="0.8"/>
<text x="18.60" y="296.30" font-size="7.6" text-anchor="middle" font-weight="normal" fill="#1a1a1a" stroke="#1a1a1a" stroke-width="0.32" transform="rotate(-90 18.60 296.30)">0.0</text>
<line x1="22.60" y1="274.55" x2="27.20" y2="274.55" stroke="#bdbdbd" stroke-width="0.8"/>
<text x="18.60" y="274.55" font-size="7.6" text-anchor="middle" font-weight="normal" fill="#1a1a1a" stroke="#1a1a1a" stroke-width="0.32" transform="rotate(-90 18.60 274.55)">0.5</text>
<line x1="22.60" y1="252.80" x2="27.20" y2="252.80" stroke="#bdbdbd" stroke-width="0.8"/>
<text x="18.60" y="252.80" font-size="7.6" text-anchor="middle" font-weight="normal" fill="#1a1a1a" stroke="#1a1a1a" stroke-width="0.32" transform="rotate(-90 18.60 252.80)">1.0</text>
<line x1="22.60" y1="231.05" x2="27.20" y2="231.05" stroke="#bdbdbd" stroke-width="0.8"/>
<text x="18.60" y="231.05" font-size="7.6" text-anchor="middle" font-weight="normal" fill="#1a1a1a" stroke="#1a1a1a" stroke-width="0.32" transform="rotate(-90 18.60 231.05)">1.5</text>
<line x1="22.60" y1="209.30" x2="27.20" y2="209.30" stroke="#bdbdbd" stroke-width="0.8"/>
<text x="18.60" y="209.30" font-size="7.6" text-anchor="middle" font-weight="normal" fill="#1a1a1a" stroke="#1a1a1a" stroke-width="0.32" transform="rotate(-90 18.60 209.30)">2.0</text>
<line x1="22.60" y1="187.55" x2="27.20" y2="187.55" stroke="#bdbdbd" stroke-width="0.8"/>
<text x="18.60" y="187.55" font-size="7.6" text-anchor="middle" font-weight="normal" fill="#1a1a1a" stroke="#1a1a1a" stroke-width="0.32" transform="rotate(-90 18.60 187.55)">2.5</text>
<text x="7.20" y="241.97" font-size="7.8" text-anchor="middle" font-weight="normal" fill="#1a1a1a" stroke="#1a1a1a" stroke-width="0.32" transform="rotate(-90 7.20 241.97)">&lt; Z^2 &gt;</text>
<text x="144.85" y="177.55" font-size="7.4" text-anchor="end" font-weight="normal" fill="#1a1a1a" stroke="#1a1a1a" stroke-width="0.12">(d)</text>
<text x="147.05" y="185.45" font-size="5.7" text-anchor="start" font-weight="bold" fill="#111" stroke="#111" stroke-width="0.12">Mean</text>
<line x1="217.40" y1="11.40" x2="217.40" y2="128.65" stroke="#f1f1f1" stroke-width="1"/>
<line x1="240.75" y1="11.40" x2="240.75" y2="128.65" stroke="#f1f1f1" stroke-width="1"/>
<line x1="264.10" y1="11.40" x2="264.10" y2="128.65" stroke="#f1f1f1" stroke-width="1"/>
<line x1="287.45" y1="11.40" x2="287.45" y2="128.65" stroke="#f1f1f1" stroke-width="1"/>
<line x1="310.80" y1="11.40" x2="310.80" y2="128.65" stroke="#f1f1f1" stroke-width="1"/>
<line x1="205.80" y1="113.54" x2="323.45" y2="113.54" stroke="#f1f1f1" stroke-width="1"/>
<line x1="205.80" y1="91.82" x2="323.45" y2="91.82" stroke="#f1f1f1" stroke-width="1"/>
<line x1="205.80" y1="70.10" x2="323.45" y2="70.10" stroke="#f1f1f1" stroke-width="1"/>
<line x1="205.80" y1="48.38" x2="323.45" y2="48.38" stroke="#f1f1f1" stroke-width="1"/>
<line x1="205.80" y1="26.66" x2="323.45" y2="26.66" stroke="#f1f1f1" stroke-width="1"/>
<line x1="205.80" y1="70.10" x2="323.45" y2="70.10" stroke="#756868" stroke-width="1.15" stroke-dasharray="1.7 1.65"/>
<text x="205.60" y="72.40" font-size="6.4" text-anchor="end" font-weight="bold" fill="#33222a" stroke="#33222a" stroke-width="0.5">0</text>
<circle cx="322.85" cy="69.01" r="1.5" fill="#3d6a75"/>
<text x="327.05" y="71.41" font-size="5.8" text-anchor="start" font-weight="normal" fill="#5694a7" stroke="#5694a7" stroke-width="0.2">0.01</text>
<line x1="221.40" y1="77.00" x2="262.00" y2="88.40" stroke="#dadada" stroke-width="0.9"/>
<line x1="303.00" y1="68.00" x2="309.80" y2="51.40" stroke="#d8d8d8" stroke-width="0.9"/>
<line x1="221.40" y1="66.00" x2="221.40" y2="87.60" stroke="#78a8bb" stroke-width="1.4" stroke-opacity="0.8"/>
<circle cx="221.40" cy="77.00" r="1.6" fill="#2f7e93"/>
<line x1="262.00" y1="76.30" x2="262.00" y2="101.30" stroke="#d05548" stroke-width="1.4" stroke-opacity="0.8"/>
<circle cx="262.00" cy="88.40" r="1.6" fill="#bf2f2b"/>
<line x1="268.00" y1="70.00" x2="268.00" y2="98.00" stroke="#78a8bb" stroke-width="1.4" stroke-opacity="0.8"/>
<circle cx="268.00" cy="82.80" r="1.6" fill="#2f7e93"/>
<line x1="276.98" y1="57.65" x2="276.98" y2="80.62" stroke="#46a1b7" stroke-width="1.4" stroke-opacity="0.75"/>
<circle cx="276.98" cy="69.20" r="1.6" fill="#2f7e93"/>
<line x1="278.46" y1="52.62" x2="278.46" y2="71.12" stroke="#46a1b7" stroke-width="1.4" stroke-opacity="0.75"/>
<circle cx="278.46" cy="61.69" r="1.6" fill="#2f7e93"/>
<line x1="273.04" y1="57.52" x2="273.04" y2="71.22" stroke="#46a1b7" stroke-width="1.4" stroke-opacity="0.75"/>
<circle cx="273.04" cy="64.07" r="1.6" fill="#2f7e93"/>
<line x1="272.46" y1="65.86" x2="272.46" y2="89.98" stroke="#46a1b7" stroke-width="1.4" stroke-opacity="0.75"/>
<circle cx="272.46" cy="77.64" r="1.6" fill="#2f7e93"/>
<line x1="273.73" y1="49.13" x2="273.73" y2="66.26" stroke="#46a1b7" stroke-width="1.4" stroke-opacity="0.75"/>
<circle cx="273.73" cy="58.30" r="1.6" fill="#2f7e93"/>
<line x1="274.66" y1="49.82" x2="274.66" y2="67.23" stroke="#46a1b7" stroke-width="1.4" stroke-opacity="0.75"/>
<circle cx="274.66" cy="58.60" r="1.6" fill="#2f7e93"/>
<line x1="277.71" y1="61.81" x2="277.71" y2="80.24" stroke="#46a1b7" stroke-width="1.4" stroke-opacity="0.75"/>
<circle cx="277.71" cy="70.81" r="1.6" fill="#2f7e93"/>
<line x1="275.06" y1="65.98" x2="275.06" y2="91.15" stroke="#46a1b7" stroke-width="1.4" stroke-opacity="0.75"/>
<circle cx="275.06" cy="77.95" r="1.6" fill="#2f7e93"/>
<line x1="275.47" y1="54.86" x2="275.47" y2="69.33" stroke="#46a1b7" stroke-width="1.4" stroke-opacity="0.75"/>
<circle cx="275.47" cy="62.59" r="1.6" fill="#2f7e93"/>
<line x1="276.40" y1="66.61" x2="276.40" y2="84.39" stroke="#46a1b7" stroke-width="1.4" stroke-opacity="0.75"/>
<circle cx="276.40" cy="74.93" r="1.6" fill="#2f7e93"/>
<line x1="272.01" y1="50.73" x2="272.01" y2="73.55" stroke="#46a1b7" stroke-width="1.4" stroke-opacity="0.75"/>
<circle cx="272.01" cy="62.19" r="1.6" fill="#2f7e93"/>
<line x1="276.37" y1="49.68" x2="276.37" y2="70.05" stroke="#46a1b7" stroke-width="1.4" stroke-opacity="0.75"/>
<circle cx="276.37" cy="59.46" r="1.6" fill="#2f7e93"/>
<line x1="272.96" y1="52.87" x2="272.96" y2="77.35" stroke="#8ccfdc" stroke-width="1.4" stroke-opacity="0.75"/>
<circle cx="272.96" cy="64.65" r="1.6" fill="#2f7e93"/>
<line x1="274.71" y1="53.66" x2="274.71" y2="66.95" stroke="#8ccfdc" stroke-width="1.4" stroke-opacity="0.75"/>
<circle cx="274.71" cy="60.02" r="1.6" fill="#2f7e93"/>
<line x1="278.15" y1="59.80" x2="278.15" y2="74.59" stroke="#8ccfdc" stroke-width="1.4" stroke-opacity="0.75"/>
<circle cx="278.15" cy="66.95" r="1.6" fill="#2f7e93"/>
<line x1="279.08" y1="51.81" x2="279.08" y2="68.12" stroke="#46a1b7" stroke-width="1.4" stroke-opacity="0.75"/>
<circle cx="279.08" cy="60.33" r="1.6" fill="#2f7e93"/>
<line x1="273.90" y1="50.00" x2="273.90" y2="75.00" stroke="#46a1b7" stroke-width="1.4" stroke-opacity="0.8"/>
<circle cx="273.90" cy="61.50" r="1.6" fill="#2f7e93"/>
<line x1="280.40" y1="43.80" x2="280.40" y2="95.60" stroke="#46a1b7" stroke-width="1.4" stroke-opacity="0.8"/>
<circle cx="280.40" cy="70.00" r="1.6" fill="#2f7e93"/>
<line x1="277.80" y1="52.00" x2="277.80" y2="87.70" stroke="#46a1b7" stroke-width="1.4" stroke-opacity="0.8"/>
<circle cx="277.80" cy="72.00" r="1.6" fill="#2f7e93"/>
<line x1="283.30" y1="35.50" x2="283.30" y2="63.70" stroke="#d05548" stroke-width="1.4" stroke-opacity="0.8"/>
<circle cx="283.30" cy="50.60" r="1.6" fill="#bf2f2b"/>
<line x1="287.41" y1="62.64" x2="287.41" y2="87.65" stroke="#8ccfdc" stroke-width="1.4" stroke-opacity="0.75"/>
<line x1="285.13" y1="51.97" x2="285.13" y2="82.87" stroke="#8ccfdc" stroke-width="1.4" stroke-opacity="0.75"/>
<line x1="284.80" y1="66.53" x2="284.80" y2="88.27" stroke="#8ccfdc" stroke-width="1.4" stroke-opacity="0.75"/>
<line x1="286.82" y1="54.14" x2="286.82" y2="76.19" stroke="#8ccfdc" stroke-width="1.4" stroke-opacity="0.75"/>
<line x1="289.76" y1="56.06" x2="289.76" y2="81.79" stroke="#46a1b7" stroke-width="1.4" stroke-opacity="0.82"/>
<circle cx="289.76" cy="68.98" r="1.4" fill="#2f7e93"/>
<line x1="301.93" y1="48.52" x2="301.93" y2="80.35" stroke="#8ccfdc" stroke-width="1.4" stroke-opacity="0.82"/>
<circle cx="301.93" cy="65.41" r="1.4" fill="#2f7e93"/>
<line x1="301.22" y1="64.45" x2="301.22" y2="86.96" stroke="#46a1b7" stroke-width="1.4" stroke-opacity="0.82"/>
<circle cx="301.22" cy="77.44" r="1.4" fill="#2f7e93"/>
<line x1="291.25" y1="61.62" x2="291.25" y2="95.03" stroke="#8ccfdc" stroke-width="1.4" stroke-opacity="0.82"/>
<circle cx="291.25" cy="82.20" r="1.4" fill="#2f7e93"/>
<line x1="289.04" y1="69.80" x2="289.04" y2="94.77" stroke="#46a1b7" stroke-width="1.4" stroke-opacity="0.82"/>
<circle cx="289.04" cy="82.66" r="1.4" fill="#2f7e93"/>
<line x1="296.85" y1="46.46" x2="296.85" y2="72.33" stroke="#46a1b7" stroke-width="1.4" stroke-opacity="0.82"/>
<circle cx="296.85" cy="58.56" r="1.4" fill="#2f7e93"/>
<line x1="296.33" y1="61.31" x2="296.33" y2="88.93" stroke="#46a1b7" stroke-width="1.4" stroke-opacity="0.82"/>
<circle cx="296.33" cy="78.69" r="1.4" fill="#2f7e93"/>
<line x1="288.73" y1="42.34" x2="288.73" y2="66.17" stroke="#46a1b7" stroke-width="1.4" stroke-opacity="0.82"/>
<circle cx="288.73" cy="57.69" r="1.4" fill="#2f7e93"/>
<line x1="296.51" y1="38.39" x2="296.51" y2="67.86" stroke="#46a1b7" stroke-width="1.4" stroke-opacity="0.82"/>
<circle cx="296.51" cy="52.74" r="1.4" fill="#2f7e93"/>
<line x1="298.18" y1="57.36" x2="298.18" y2="77.32" stroke="#46a1b7" stroke-width="1.4" stroke-opacity="0.82"/>
<circle cx="298.18" cy="69.04" r="1.4" fill="#2f7e93"/>
<line x1="298.31" y1="72.40" x2="298.31" y2="95.45" stroke="#46a1b7" stroke-width="1.4" stroke-opacity="0.82"/>
<circle cx="298.31" cy="82.66" r="1.4" fill="#2f7e93"/>
<line x1="292.96" y1="73.07" x2="292.96" y2="96.21" stroke="#46a1b7" stroke-width="1.4" stroke-opacity="0.82"/>
<circle cx="292.96" cy="83.98" r="1.4" fill="#2f7e93"/>
<line x1="298.82" y1="53.81" x2="298.82" y2="88.65" stroke="#46a1b7" stroke-width="1.4" stroke-opacity="0.82"/>
<circle cx="298.82" cy="73.33" r="1.4" fill="#2f7e93"/>
<line x1="301.11" y1="64.35" x2="301.11" y2="93.68" stroke="#46a1b7" stroke-width="1.4" stroke-opacity="0.82"/>
<circle cx="301.11" cy="79.36" r="1.4" fill="#2f7e93"/>
<line x1="297.25" y1="44.77" x2="297.25" y2="74.63" stroke="#46a1b7" stroke-width="1.4" stroke-opacity="0.82"/>
<circle cx="297.25" cy="61.76" r="1.4" fill="#2f7e93"/>
<line x1="302.41" y1="60.93" x2="302.41" y2="90.78" stroke="#46a1b7" stroke-width="1.4" stroke-opacity="0.82"/>
<circle cx="302.41" cy="79.67" r="1.4" fill="#2f7e93"/>
<line x1="294.67" y1="67.18" x2="294.67" y2="92.18" stroke="#46a1b7" stroke-width="1.4" stroke-opacity="0.82"/>
<circle cx="294.67" cy="78.18" r="1.4" fill="#2f7e93"/>
<line x1="295.23" y1="37.91" x2="295.23" y2="68.27" stroke="#46a1b7" stroke-width="1.4" stroke-opacity="0.82"/>
<circle cx="295.23" cy="56.29" r="1.4" fill="#2f7e93"/>
<line x1="292.08" y1="34.79" x2="292.08" y2="61.83" stroke="#8ccfdc" stroke-width="1.4" stroke-opacity="0.82"/>
<circle cx="292.08" cy="48.41" r="1.4" fill="#2f7e93"/>
<line x1="301.18" y1="56.46" x2="301.18" y2="86.89" stroke="#46a1b7" stroke-width="1.4" stroke-opacity="0.82"/>
<circle cx="301.18" cy="71.76" r="1.4" fill="#2f7e93"/>
<line x1="291.28" y1="43.84" x2="291.28" y2="78.83" stroke="#46a1b7" stroke-width="1.4" stroke-opacity="0.82"/>
<circle cx="291.28" cy="63.51" r="1.4" fill="#2f7e93"/>
<line x1="296.66" y1="47.76" x2="296.66" y2="71.37" stroke="#46a1b7" stroke-width="1.4" stroke-opacity="0.82"/>
<circle cx="296.66" cy="59.39" r="1.4" fill="#2f7e93"/>
<line x1="298.46" y1="68.88" x2="298.46" y2="91.55" stroke="#46a1b7" stroke-width="1.4" stroke-opacity="0.82"/>
<circle cx="298.46" cy="82.20" r="1.4" fill="#2f7e93"/>
<line x1="291.50" y1="45.39" x2="291.50" y2="74.85" stroke="#46a1b7" stroke-width="1.4" stroke-opacity="0.82"/>
<circle cx="291.50" cy="62.90" r="1.4" fill="#2f7e93"/>
<line x1="302.25" y1="53.39" x2="302.25" y2="72.54" stroke="#8ccfdc" stroke-width="1.4" stroke-opacity="0.82"/>
<circle cx="302.25" cy="64.29" r="1.4" fill="#2f7e93"/>
<line x1="298.42" y1="54.83" x2="298.42" y2="82.87" stroke="#8ccfdc" stroke-width="1.4" stroke-opacity="0.82"/>
<circle cx="298.42" cy="68.54" r="1.4" fill="#2f7e93"/>
<line x1="294.87" y1="28.93" x2="294.87" y2="58.79" stroke="#8ccfdc" stroke-width="1.4" stroke-opacity="0.82"/>
<circle cx="294.87" cy="48.89" r="1.4" fill="#2f7e93"/>
<line x1="297.31" y1="46.51" x2="297.31" y2="77.31" stroke="#46a1b7" stroke-width="1.4" stroke-opacity="0.82"/>
<circle cx="297.31" cy="64.07" r="1.4" fill="#2f7e93"/>
<line x1="298.08" y1="39.47" x2="298.08" y2="64.61" stroke="#46a1b7" stroke-width="1.4" stroke-opacity="0.82"/>
<circle cx="298.08" cy="55.18" r="1.4" fill="#2f7e93"/>
<line x1="298.50" y1="41.18" x2="298.50" y2="65.21" stroke="#46a1b7" stroke-width="1.4" stroke-opacity="0.82"/>
<circle cx="298.50" cy="54.45" r="1.4" fill="#2f7e93"/>
<line x1="297.10" y1="60.50" x2="297.10" y2="89.56" stroke="#8ccfdc" stroke-width="1.4" stroke-opacity="0.82"/>
<circle cx="297.10" cy="75.22" r="1.4" fill="#2f7e93"/>
<line x1="301.56" y1="62.45" x2="301.56" y2="85.63" stroke="#46a1b7" stroke-width="1.4" stroke-opacity="0.82"/>
<circle cx="301.56" cy="74.01" r="1.4" fill="#2f7e93"/>
<line x1="293.78" y1="47.93" x2="293.78" y2="82.85" stroke="#46a1b7" stroke-width="1.4" stroke-opacity="0.82"/>
<circle cx="293.78" cy="68.48" r="1.4" fill="#2f7e93"/>
<line x1="297.62" y1="36.71" x2="297.62" y2="69.92" stroke="#46a1b7" stroke-width="1.4" stroke-opacity="0.82"/>
<circle cx="297.62" cy="55.38" r="1.4" fill="#2f7e93"/>
<line x1="291.49" y1="58.63" x2="291.49" y2="95.61" stroke="#46a1b7" stroke-width="1.4" stroke-opacity="0.82"/>
<circle cx="291.49" cy="80.40" r="1.4" fill="#2f7e93"/>
<line x1="292.99" y1="60.49" x2="292.99" y2="91.55" stroke="#46a1b7" stroke-width="1.4" stroke-opacity="0.82"/>
<circle cx="292.99" cy="80.76" r="1.4" fill="#2f7e93"/>
<line x1="296.20" y1="59.81" x2="296.20" y2="83.88" stroke="#8ccfdc" stroke-width="1.4" stroke-opacity="0.82"/>
<circle cx="296.20" cy="75.66" r="1.4" fill="#2f7e93"/>
<line x1="299.70" y1="40.20" x2="299.70" y2="68.53" stroke="#8ccfdc" stroke-width="1.4" stroke-opacity="0.82"/>
<circle cx="299.70" cy="54.22" r="1.4" fill="#2f7e93"/>
<line x1="295.73" y1="53.97" x2="295.73" y2="87.56" stroke="#46a1b7" stroke-width="1.4" stroke-opacity="0.82"/>
<circle cx="295.73" cy="74.05" r="1.4" fill="#2f7e93"/>
<line x1="301.79" y1="38.44" x2="301.79" y2="63.31" stroke="#46a1b7" stroke-width="1.4" stroke-opacity="0.82"/>
<circle cx="301.79" cy="51.10" r="1.4" fill="#2f7e93"/>
<line x1="297.44" y1="46.70" x2="297.44" y2="79.30" stroke="#46a1b7" stroke-width="1.4" stroke-opacity="0.82"/>
<circle cx="297.44" cy="66.82" r="1.4" fill="#2f7e93"/>
<line x1="300.33" y1="67.92" x2="300.33" y2="95.23" stroke="#46a1b7" stroke-width="1.4" stroke-opacity="0.82"/>
<circle cx="300.33" cy="80.42" r="1.4" fill="#2f7e93"/>
<line x1="300.40" y1="32.10" x2="300.40" y2="92.00" stroke="#46a1b7" stroke-width="1.4" stroke-opacity="0.8"/>
<line x1="296.00" y1="35.00" x2="296.00" y2="94.00" stroke="#46a1b7" stroke-width="1.4" stroke-opacity="0.8"/>
<line x1="293.00" y1="40.00" x2="293.00" y2="92.00" stroke="#46a1b7" stroke-width="1.4" stroke-opacity="0.8"/>
<line x1="302.00" y1="42.00" x2="302.00" y2="90.00" stroke="#46a1b7" stroke-width="1.4" stroke-opacity="0.8"/>
<line x1="290.00" y1="44.00" x2="290.00" y2="90.00" stroke="#46a1b7" stroke-width="1.4" stroke-opacity="0.8"/>
<line x1="289.50" y1="37.00" x2="289.50" y2="72.00" stroke="#d05548" stroke-width="1.4" stroke-opacity="0.55"/>
<line x1="291.00" y1="40.00" x2="291.00" y2="70.00" stroke="#d05548" stroke-width="1.4" stroke-opacity="0.55"/>
<line x1="293.20" y1="33.00" x2="293.20" y2="68.00" stroke="#d05548" stroke-width="1.4" stroke-opacity="0.55"/>
<line x1="290.20" y1="45.00" x2="290.20" y2="78.00" stroke="#d05548" stroke-width="1.4" stroke-opacity="0.55"/>
<line x1="289.00" y1="30.50" x2="289.00" y2="70.00" stroke="#d05548" stroke-width="1.4" stroke-opacity="0.8"/>
<line x1="292.10" y1="19.40" x2="292.10" y2="60.00" stroke="#d05548" stroke-width="1.4" stroke-opacity="0.8"/>
<circle cx="292.10" cy="37.70" r="1.6" fill="#bf2f2b"/>
<line x1="294.60" y1="21.00" x2="294.60" y2="58.00" stroke="#d05548" stroke-width="1.4" stroke-opacity="0.8"/>
<line x1="294.70" y1="91.40" x2="294.70" y2="110.70" stroke="#e88a76" stroke-width="1.4" stroke-opacity="0.8"/>
<line x1="296.50" y1="88.00" x2="296.50" y2="113.00" stroke="#d05548" stroke-width="1.4" stroke-opacity="0.6"/>
<line x1="297.70" y1="96.00" x2="297.70" y2="113.00" stroke="#e88a76" stroke-width="1.4" stroke-opacity="0.8"/>
<line x1="299.60" y1="85.00" x2="299.60" y2="117.90" stroke="#d05548" stroke-width="1.4" stroke-opacity="0.8"/>
<circle cx="299.60" cy="96.80" r="1.6" fill="#bf2f2b"/>
<line x1="309.80" y1="28.80" x2="309.80" y2="74.50" stroke="#78a8bb" stroke-width="1.4" stroke-opacity="0.8"/>
<circle cx="309.80" cy="51.50" r="1.6" fill="#2f7e93"/>
<rect x="205.80" y="11.40" width="117.65" height="117.25" fill="none" stroke="#7c7c7c" stroke-width="1.25"/>
<line x1="217.40" y1="128.65" x2="217.40" y2="133.25" stroke="#bdbdbd" stroke-width="0.8"/>
<line x1="240.75" y1="128.65" x2="240.75" y2="133.25" stroke="#bdbdbd" stroke-width="0.8"/>
<line x1="264.10" y1="128.65" x2="264.10" y2="133.25" stroke="#bdbdbd" stroke-width="0.8"/>
<line x1="287.45" y1="128.65" x2="287.45" y2="133.25" stroke="#bdbdbd" stroke-width="0.8"/>
<line x1="310.80" y1="128.65" x2="310.80" y2="133.25" stroke="#bdbdbd" stroke-width="0.8"/>
<text x="217.40" y="143.50" font-size="7.8" text-anchor="middle" font-weight="normal" fill="#1a1a1a" stroke="#1a1a1a" stroke-width="0.32">60</text>
<text x="240.75" y="143.50" font-size="7.8" text-anchor="middle" font-weight="normal" fill="#1a1a1a" stroke="#1a1a1a" stroke-width="0.32">80</text>
<text x="264.10" y="143.50" font-size="7.8" text-anchor="middle" font-weight="normal" fill="#1a1a1a" stroke="#1a1a1a" stroke-width="0.32">100</text>
<text x="287.45" y="143.50" font-size="7.8" text-anchor="middle" font-weight="normal" fill="#1a1a1a" stroke="#1a1a1a" stroke-width="0.32">120</text>
<text x="310.80" y="143.50" font-size="7.8" text-anchor="middle" font-weight="normal" fill="#1a1a1a" stroke="#1a1a1a" stroke-width="0.32">140</text>
<text x="264.82" y="154.65" font-size="7.75" text-anchor="middle" font-weight="normal" fill="#1a1a1a" stroke="#1a1a1a" stroke-width="0.32">Molecular Mass [Da]</text>
<line x1="201.20" y1="113.54" x2="205.80" y2="113.54" stroke="#bdbdbd" stroke-width="0.8"/>
<text x="197.20" y="113.54" font-size="7.6" text-anchor="middle" font-weight="normal" fill="#1a1a1a" stroke="#1a1a1a" stroke-width="0.32" transform="rotate(-90 197.20 113.54)">-0.4</text>
<line x1="201.20" y1="91.82" x2="205.80" y2="91.82" stroke="#bdbdbd" stroke-width="0.8"/>
<text x="197.20" y="91.82" font-size="7.6" text-anchor="middle" font-weight="normal" fill="#1a1a1a" stroke="#1a1a1a" stroke-width="0.32" transform="rotate(-90 197.20 91.82)">-0.2</text>
<line x1="201.20" y1="70.10" x2="205.80" y2="70.10" stroke="#bdbdbd" stroke-width="0.8"/>
<text x="197.20" y="70.10" font-size="7.6" text-anchor="middle" font-weight="normal" fill="#1a1a1a" stroke="#1a1a1a" stroke-width="0.32" transform="rotate(-90 197.20 70.10)">0.0</text>
<line x1="201.20" y1="48.38" x2="205.80" y2="48.38" stroke="#bdbdbd" stroke-width="0.8"/>
<text x="197.20" y="48.38" font-size="7.6" text-anchor="middle" font-weight="normal" fill="#1a1a1a" stroke="#1a1a1a" stroke-width="0.32" transform="rotate(-90 197.20 48.38)">0.2</text>
<line x1="201.20" y1="26.66" x2="205.80" y2="26.66" stroke="#bdbdbd" stroke-width="0.8"/>
<text x="197.20" y="26.66" font-size="7.6" text-anchor="middle" font-weight="normal" fill="#1a1a1a" stroke="#1a1a1a" stroke-width="0.32" transform="rotate(-90 197.20 26.66)">0.4</text>
<text x="185.80" y="70.03" font-size="7.8" text-anchor="middle" font-weight="normal" fill="#1a1a1a" stroke="#1a1a1a" stroke-width="0.32" transform="rotate(-90 185.80 70.03)">&lt; Z &gt;</text>
<text x="323.45" y="5.50" font-size="7.4" text-anchor="end" font-weight="normal" fill="#1a1a1a" stroke="#1a1a1a" stroke-width="0.12">(b)</text>
<text x="325.65" y="13.40" font-size="5.7" text-anchor="start" font-weight="bold" fill="#111" stroke="#111" stroke-width="0.12">Mean</text>
<line x1="217.40" y1="183.45" x2="217.40" y2="300.50" stroke="#f1f1f1" stroke-width="1"/>
<line x1="240.75" y1="183.45" x2="240.75" y2="300.50" stroke="#f1f1f1" stroke-width="1"/>
<line x1="264.10" y1="183.45" x2="264.10" y2="300.50" stroke="#f1f1f1" stroke-width="1"/>
<line x1="287.45" y1="183.45" x2="287.45" y2="300.50" stroke="#f1f1f1" stroke-width="1"/>
<line x1="310.80" y1="183.45" x2="310.80" y2="300.50" stroke="#f1f1f1" stroke-width="1"/>
<line x1="205.80" y1="296.30" x2="323.45" y2="296.30" stroke="#f1f1f1" stroke-width="1"/>
<line x1="205.80" y1="274.55" x2="323.45" y2="274.55" stroke="#f1f1f1" stroke-width="1"/>
<line x1="205.80" y1="252.80" x2="323.45" y2="252.80" stroke="#f1f1f1" stroke-width="1"/>
<line x1="205.80" y1="231.05" x2="323.45" y2="231.05" stroke="#f1f1f1" stroke-width="1"/>
<line x1="205.80" y1="209.30" x2="323.45" y2="209.30" stroke="#f1f1f1" stroke-width="1"/>
<line x1="205.80" y1="187.55" x2="323.45" y2="187.55" stroke="#f1f1f1" stroke-width="1"/>
<line x1="205.80" y1="252.80" x2="323.45" y2="252.80" stroke="#756868" stroke-width="1.15" stroke-dasharray="1.7 1.65"/>
<text x="202.20" y="254.70" font-size="5.6" text-anchor="end" font-weight="bold" fill="#2a1a1a" stroke="#2a1a1a" stroke-width="0.35">1</text>
<line x1="203.60" y1="252.80" x2="205.80" y2="252.80" stroke="#2a1a1a" stroke-width="1.2"/>
<circle cx="322.85" cy="254.54" r="1.5" fill="#3d6a75"/>
<text x="327.05" y="256.94" font-size="5.8" text-anchor="start" font-weight="normal" fill="#5694a7" stroke="#5694a7" stroke-width="0.2">0.96</text>
<line x1="221.40" y1="279.90" x2="261.80" y2="274.00" stroke="#f0c8c2" stroke-width="0.9"/>
<line x1="303.00" y1="250.00" x2="310.10" y2="225.40" stroke="#d8d8d8" stroke-width="0.9"/>
<line x1="221.40" y1="275.20" x2="221.40" y2="284.70" stroke="#d05548" stroke-width="1.4" stroke-opacity="0.8"/>
<circle cx="221.40" cy="279.90" r="1.6" fill="#bf2f2b"/>
<line x1="261.80" y1="266.60" x2="261.80" y2="280.40" stroke="#d05548" stroke-width="1.4" stroke-opacity="0.8"/>
<circle cx="261.80" cy="274.00" r="1.6" fill="#bf2f2b"/>
<line x1="268.10" y1="250.50" x2="268.10" y2="271.50" stroke="#78a8bb" stroke-width="1.4" stroke-opacity="0.8"/>
<circle cx="268.10" cy="264.30" r="1.6" fill="#2f7e93"/>
<line x1="281.00" y1="221.60" x2="281.00" y2="262.70" stroke="#46a1b7" stroke-width="1.4" stroke-opacity="0.8"/>
<circle cx="281.00" cy="249.20" r="1.6" fill="#2f7e93"/>
<line x1="293.00" y1="186.30" x2="293.00" y2="250.00" stroke="#e88a76" stroke-width="1.6" stroke-opacity="0.75"/>
<line x1="293.80" y1="190.00" x2="293.80" y2="245.00" stroke="#e88a76" stroke-width="1.6" stroke-opacity="0.75"/>
<line x1="295.70" y1="188.50" x2="295.70" y2="250.00" stroke="#e88a76" stroke-width="1.6" stroke-opacity="0.75"/>
<line x1="297.00" y1="196.30" x2="297.00" y2="255.00" stroke="#e88a76" stroke-width="1.6" stroke-opacity="0.75"/>
<line x1="298.20" y1="200.00" x2="298.20" y2="250.00" stroke="#e88a76" stroke-width="1.6" stroke-opacity="0.75"/>
<line x1="294.50" y1="195.00" x2="294.50" y2="240.00" stroke="#e88a76" stroke-width="1.6" stroke-opacity="0.75"/>
<line x1="296.50" y1="192.00" x2="296.50" y2="248.00" stroke="#e88a76" stroke-width="1.6" stroke-opacity="0.75"/>
<line x1="300.30" y1="196.30" x2="300.30" y2="250.00" stroke="#d05548" stroke-width="1.4" stroke-opacity="0.8"/>
<circle cx="300.30" cy="219.00" r="1.6" fill="#bf2f2b"/>
<line x1="292.10" y1="184.00" x2="292.10" y2="240.00" stroke="#78a8bb" stroke-width="1.4" stroke-opacity="0.8"/>
<line x1="299.50" y1="184.00" x2="299.50" y2="245.00" stroke="#78a8bb" stroke-width="1.4" stroke-opacity="0.8"/>
<line x1="296.14" y1="234.34" x2="296.14" y2="257.95" stroke="#46a1b7" stroke-width="1.4" stroke-opacity="0.82"/>
<circle cx="296.14" cy="251.67" r="1.4" fill="#2f7e93"/>
<line x1="293.34" y1="239.50" x2="293.34" y2="267.59" stroke="#46a1b7" stroke-width="1.4" stroke-opacity="0.82"/>
<circle cx="293.34" cy="257.17" r="1.4" fill="#2f7e93"/>
<line x1="291.53" y1="233.57" x2="291.53" y2="257.00" stroke="#46a1b7" stroke-width="1.4" stroke-opacity="0.82"/>
<circle cx="291.53" cy="243.84" r="1.4" fill="#2f7e93"/>
<line x1="290.54" y1="240.01" x2="290.54" y2="261.37" stroke="#8ccfdc" stroke-width="1.4" stroke-opacity="0.82"/>
<circle cx="290.54" cy="252.73" r="1.4" fill="#2f7e93"/>
<line x1="290.35" y1="245.82" x2="290.35" y2="266.76" stroke="#46a1b7" stroke-width="1.4" stroke-opacity="0.82"/>
<circle cx="290.35" cy="260.94" r="1.4" fill="#2f7e93"/>
<line x1="291.08" y1="233.34" x2="291.08" y2="251.05" stroke="#8ccfdc" stroke-width="1.4" stroke-opacity="0.82"/>
<circle cx="291.08" cy="243.24" r="1.4" fill="#2f7e93"/>
<line x1="299.26" y1="219.45" x2="299.26" y2="242.19" stroke="#46a1b7" stroke-width="1.4" stroke-opacity="0.82"/>
<circle cx="299.26" cy="229.85" r="1.4" fill="#2f7e93"/>
<line x1="297.84" y1="231.78" x2="297.84" y2="250.44" stroke="#46a1b7" stroke-width="1.4" stroke-opacity="0.82"/>
<circle cx="297.84" cy="245.16" r="1.4" fill="#2f7e93"/>
<line x1="303.17" y1="238.90" x2="303.17" y2="260.16" stroke="#46a1b7" stroke-width="1.4" stroke-opacity="0.82"/>
<circle cx="303.17" cy="251.89" r="1.4" fill="#2f7e93"/>
<line x1="291.09" y1="223.37" x2="291.09" y2="246.06" stroke="#46a1b7" stroke-width="1.4" stroke-opacity="0.82"/>
<circle cx="291.09" cy="236.46" r="1.4" fill="#2f7e93"/>
<line x1="289.89" y1="243.59" x2="289.89" y2="267.28" stroke="#46a1b7" stroke-width="1.4" stroke-opacity="0.82"/>
<circle cx="289.89" cy="257.61" r="1.4" fill="#2f7e93"/>
<line x1="294.94" y1="246.35" x2="294.94" y2="265.74" stroke="#46a1b7" stroke-width="1.4" stroke-opacity="0.82"/>
<circle cx="294.94" cy="255.79" r="1.4" fill="#2f7e93"/>
<line x1="290.02" y1="225.14" x2="290.02" y2="248.69" stroke="#46a1b7" stroke-width="1.4" stroke-opacity="0.82"/>
<circle cx="290.02" cy="237.96" r="1.4" fill="#2f7e93"/>
<line x1="292.42" y1="223.48" x2="292.42" y2="251.78" stroke="#46a1b7" stroke-width="1.4" stroke-opacity="0.82"/>
<circle cx="292.42" cy="238.15" r="1.4" fill="#2f7e93"/>
<line x1="291.85" y1="248.17" x2="291.85" y2="267.98" stroke="#46a1b7" stroke-width="1.4" stroke-opacity="0.82"/>
<circle cx="291.85" cy="261.27" r="1.4" fill="#2f7e93"/>
<line x1="289.59" y1="218.87" x2="289.59" y2="245.73" stroke="#8ccfdc" stroke-width="1.4" stroke-opacity="0.82"/>
<circle cx="289.59" cy="237.66" r="1.4" fill="#2f7e93"/>
<line x1="290.06" y1="228.51" x2="290.06" y2="264.27" stroke="#8ccfdc" stroke-width="1.4" stroke-opacity="0.82"/>
<circle cx="290.06" cy="250.29" r="1.4" fill="#2f7e93"/>
<line x1="294.01" y1="236.70" x2="294.01" y2="267.10" stroke="#46a1b7" stroke-width="1.4" stroke-opacity="0.82"/>
<circle cx="294.01" cy="256.35" r="1.4" fill="#2f7e93"/>
<line x1="296.18" y1="238.89" x2="296.18" y2="264.09" stroke="#8ccfdc" stroke-width="1.4" stroke-opacity="0.82"/>
<circle cx="296.18" cy="250.57" r="1.4" fill="#2f7e93"/>
<line x1="293.58" y1="247.54" x2="293.58" y2="271.55" stroke="#46a1b7" stroke-width="1.4" stroke-opacity="0.82"/>
<circle cx="293.58" cy="259.43" r="1.4" fill="#2f7e93"/>
<line x1="299.37" y1="223.72" x2="299.37" y2="243.00" stroke="#46a1b7" stroke-width="1.4" stroke-opacity="0.82"/>
<circle cx="299.37" cy="235.71" r="1.4" fill="#2f7e93"/>
<line x1="291.34" y1="246.03" x2="291.34" y2="267.08" stroke="#46a1b7" stroke-width="1.4" stroke-opacity="0.82"/>
<circle cx="291.34" cy="259.91" r="1.4" fill="#2f7e93"/>
<line x1="297.34" y1="229.61" x2="297.34" y2="264.15" stroke="#46a1b7" stroke-width="1.4" stroke-opacity="0.82"/>
<circle cx="297.34" cy="250.49" r="1.4" fill="#2f7e93"/>
<line x1="297.74" y1="241.39" x2="297.74" y2="270.66" stroke="#46a1b7" stroke-width="1.4" stroke-opacity="0.82"/>
<circle cx="297.74" cy="260.43" r="1.4" fill="#2f7e93"/>
<line x1="299.80" y1="240.04" x2="299.80" y2="259.67" stroke="#46a1b7" stroke-width="1.4" stroke-opacity="0.82"/>
<circle cx="299.80" cy="248.28" r="1.4" fill="#2f7e93"/>
<line x1="302.06" y1="245.29" x2="302.06" y2="271.14" stroke="#8ccfdc" stroke-width="1.4" stroke-opacity="0.82"/>
<circle cx="302.06" cy="260.78" r="1.4" fill="#2f7e93"/>
<line x1="294.44" y1="218.16" x2="294.44" y2="250.44" stroke="#46a1b7" stroke-width="1.4" stroke-opacity="0.82"/>
<circle cx="294.44" cy="239.24" r="1.4" fill="#2f7e93"/>
<line x1="291.25" y1="229.42" x2="291.25" y2="255.78" stroke="#46a1b7" stroke-width="1.4" stroke-opacity="0.82"/>
<circle cx="291.25" cy="247.23" r="1.4" fill="#2f7e93"/>
<line x1="294.03" y1="242.68" x2="294.03" y2="258.48" stroke="#46a1b7" stroke-width="1.4" stroke-opacity="0.82"/>
<circle cx="294.03" cy="252.67" r="1.4" fill="#2f7e93"/>
<line x1="300.13" y1="230.65" x2="300.13" y2="260.03" stroke="#46a1b7" stroke-width="1.4" stroke-opacity="0.82"/>
<circle cx="300.13" cy="251.74" r="1.4" fill="#2f7e93"/>
<line x1="295.71" y1="217.11" x2="295.71" y2="242.53" stroke="#46a1b7" stroke-width="1.4" stroke-opacity="0.82"/>
<circle cx="295.71" cy="234.46" r="1.4" fill="#2f7e93"/>
<line x1="302.71" y1="215.23" x2="302.71" y2="235.80" stroke="#46a1b7" stroke-width="1.4" stroke-opacity="0.82"/>
<circle cx="302.71" cy="228.28" r="1.4" fill="#2f7e93"/>
<line x1="292.59" y1="246.06" x2="292.59" y2="270.49" stroke="#46a1b7" stroke-width="1.4" stroke-opacity="0.82"/>
<circle cx="292.59" cy="261.08" r="1.4" fill="#2f7e93"/>
<line x1="297.99" y1="246.85" x2="297.99" y2="267.48" stroke="#46a1b7" stroke-width="1.4" stroke-opacity="0.82"/>
<circle cx="297.99" cy="258.34" r="1.4" fill="#2f7e93"/>
<line x1="292.69" y1="228.71" x2="292.69" y2="255.93" stroke="#46a1b7" stroke-width="1.4" stroke-opacity="0.82"/>
<circle cx="292.69" cy="247.37" r="1.4" fill="#2f7e93"/>
<line x1="303.11" y1="230.41" x2="303.11" y2="256.09" stroke="#46a1b7" stroke-width="1.4" stroke-opacity="0.82"/>
<circle cx="303.11" cy="247.94" r="1.4" fill="#2f7e93"/>
<line x1="296.50" y1="228.69" x2="296.50" y2="247.21" stroke="#46a1b7" stroke-width="1.4" stroke-opacity="0.82"/>
<circle cx="296.50" cy="240.99" r="1.4" fill="#2f7e93"/>
<line x1="293.03" y1="210.40" x2="293.03" y2="237.22" stroke="#46a1b7" stroke-width="1.4" stroke-opacity="0.82"/>
<circle cx="293.03" cy="229.65" r="1.4" fill="#2f7e93"/>
<line x1="294.95" y1="238.87" x2="294.95" y2="267.32" stroke="#46a1b7" stroke-width="1.4" stroke-opacity="0.82"/>
<circle cx="294.95" cy="259.43" r="1.4" fill="#2f7e93"/>
<line x1="301.30" y1="230.93" x2="301.30" y2="258.62" stroke="#46a1b7" stroke-width="1.4" stroke-opacity="0.82"/>
<circle cx="301.30" cy="249.91" r="1.4" fill="#2f7e93"/>
<line x1="295.20" y1="228.28" x2="295.20" y2="250.26" stroke="#8ccfdc" stroke-width="1.4" stroke-opacity="0.82"/>
<circle cx="295.20" cy="241.67" r="1.4" fill="#2f7e93"/>
<line x1="292.37" y1="215.57" x2="292.37" y2="246.87" stroke="#46a1b7" stroke-width="1.4" stroke-opacity="0.82"/>
<circle cx="292.37" cy="237.17" r="1.4" fill="#2f7e93"/>
<line x1="300.40" y1="205.50" x2="300.40" y2="231.50" stroke="#d05548" stroke-width="1.4" stroke-opacity="0.8"/>
<circle cx="300.40" cy="219.50" r="1.6" fill="#bf2f2b"/>
<line x1="296.00" y1="213.20" x2="296.00" y2="239.20" stroke="#d05548" stroke-width="1.4" stroke-opacity="0.8"/>
<circle cx="296.00" cy="227.20" r="1.6" fill="#bf2f2b"/>
<line x1="297.00" y1="216.60" x2="297.00" y2="242.60" stroke="#d05548" stroke-width="1.4" stroke-opacity="0.8"/>
<circle cx="297.00" cy="230.60" r="1.6" fill="#bf2f2b"/>
<line x1="294.80" y1="219.90" x2="294.80" y2="245.90" stroke="#d05548" stroke-width="1.4" stroke-opacity="0.8"/>
<circle cx="294.80" cy="233.90" r="1.6" fill="#bf2f2b"/>
<line x1="291.50" y1="211.20" x2="291.50" y2="241.20" stroke="#46a1b7" stroke-width="1.4" stroke-opacity="0.8"/>
<circle cx="291.50" cy="227.20" r="1.6" fill="#2f7e93"/>
<line x1="292.60" y1="222.30" x2="292.60" y2="252.30" stroke="#46a1b7" stroke-width="1.4" stroke-opacity="0.8"/>
<circle cx="292.60" cy="238.30" r="1.6" fill="#2f7e93"/>
<line x1="302.60" y1="232.30" x2="302.60" y2="262.30" stroke="#46a1b7" stroke-width="1.4" stroke-opacity="0.8"/>
<circle cx="302.60" cy="248.30" r="1.6" fill="#2f7e93"/>
<line x1="290.50" y1="234.00" x2="290.50" y2="264.00" stroke="#46a1b7" stroke-width="1.4" stroke-opacity="0.8"/>
<circle cx="290.50" cy="250.00" r="1.6" fill="#2f7e93"/>
<line x1="299.50" y1="227.00" x2="299.50" y2="257.00" stroke="#46a1b7" stroke-width="1.4" stroke-opacity="0.8"/>
<circle cx="299.50" cy="243.00" r="1.6" fill="#2f7e93"/>
<line x1="281.24" y1="262.06" x2="281.24" y2="278.94" stroke="#e88a76" stroke-width="1.4" stroke-opacity="0.75"/>
<line x1="277.83" y1="252.18" x2="277.83" y2="275.68" stroke="#e88a76" stroke-width="1.4" stroke-opacity="0.75"/>
<line x1="277.27" y1="264.65" x2="277.27" y2="276.59" stroke="#e88a76" stroke-width="1.4" stroke-opacity="0.75"/>
<line x1="276.08" y1="256.73" x2="276.08" y2="271.14" stroke="#e88a76" stroke-width="1.4" stroke-opacity="0.75"/>
<line x1="277.78" y1="256.80" x2="277.78" y2="270.60" stroke="#e88a76" stroke-width="1.4" stroke-opacity="0.75"/>
<line x1="273.30" y1="274.80" x2="273.30" y2="284.80" stroke="#d05548" stroke-width="1.4" stroke-opacity="0.8"/>
<circle cx="273.30" cy="279.80" r="1.6" fill="#bf2f2b"/>
<line x1="275.00" y1="268.70" x2="275.00" y2="278.70" stroke="#d05548" stroke-width="1.4" stroke-opacity="0.8"/>
<circle cx="275.00" cy="273.70" r="1.6" fill="#bf2f2b"/>
<line x1="276.00" y1="264.30" x2="276.00" y2="274.30" stroke="#d05548" stroke-width="1.4" stroke-opacity="0.8"/>
<circle cx="276.00" cy="269.30" r="1.6" fill="#bf2f2b"/>
<line x1="278.80" y1="266.50" x2="278.80" y2="276.50" stroke="#d05548" stroke-width="1.4" stroke-opacity="0.8"/>
<circle cx="278.80" cy="271.50" r="1.6" fill="#bf2f2b"/>
<line x1="280.00" y1="271.50" x2="280.00" y2="281.50" stroke="#d05548" stroke-width="1.4" stroke-opacity="0.8"/>
<circle cx="280.00" cy="276.50" r="1.6" fill="#bf2f2b"/>
<line x1="281.60" y1="266.50" x2="281.60" y2="276.50" stroke="#d05548" stroke-width="1.4" stroke-opacity="0.8"/>
<circle cx="281.60" cy="271.50" r="1.6" fill="#bf2f2b"/>
<line x1="286.60" y1="271.50" x2="286.60" y2="281.50" stroke="#d05548" stroke-width="1.4" stroke-opacity="0.8"/>
<circle cx="286.60" cy="276.50" r="1.6" fill="#bf2f2b"/>
<line x1="288.80" y1="266.50" x2="288.80" y2="276.50" stroke="#d05548" stroke-width="1.4" stroke-opacity="0.8"/>
<circle cx="288.80" cy="271.50" r="1.6" fill="#bf2f2b"/>
<line x1="291.00" y1="263.00" x2="291.00" y2="273.00" stroke="#d05548" stroke-width="1.4" stroke-opacity="0.8"/>
<circle cx="291.00" cy="268.00" r="1.6" fill="#bf2f2b"/>
<line x1="293.80" y1="262.00" x2="293.80" y2="272.00" stroke="#d05548" stroke-width="1.4" stroke-opacity="0.8"/>
<circle cx="293.80" cy="267.00" r="1.6" fill="#bf2f2b"/>
<line x1="295.00" y1="264.50" x2="295.00" y2="274.50" stroke="#d05548" stroke-width="1.4" stroke-opacity="0.8"/>
<circle cx="295.00" cy="269.50" r="1.6" fill="#bf2f2b"/>
<line x1="296.00" y1="268.20" x2="296.00" y2="278.20" stroke="#d05548" stroke-width="1.4" stroke-opacity="0.8"/>
<circle cx="296.00" cy="273.20" r="1.6" fill="#bf2f2b"/>
<line x1="301.00" y1="262.10" x2="301.00" y2="272.10" stroke="#d05548" stroke-width="1.4" stroke-opacity="0.8"/>
<circle cx="301.00" cy="267.10" r="1.6" fill="#bf2f2b"/>
<line x1="283.50" y1="269.00" x2="283.50" y2="279.00" stroke="#d05548" stroke-width="1.4" stroke-opacity="0.8"/>
<circle cx="283.50" cy="274.00" r="1.6" fill="#bf2f2b"/>
<line x1="298.00" y1="266.00" x2="298.00" y2="276.00" stroke="#d05548" stroke-width="1.4" stroke-opacity="0.8"/>
<circle cx="298.00" cy="271.00" r="1.6" fill="#bf2f2b"/>
<line x1="284.90" y1="258.00" x2="284.90" y2="272.00" stroke="#46a1b7" stroke-width="1.4" stroke-opacity="0.8"/>
<circle cx="284.90" cy="266.50" r="1.6" fill="#2f7e93"/>
<line x1="310.10" y1="184.00" x2="310.10" y2="254.50" stroke="#78a8bb" stroke-width="1.4" stroke-opacity="0.8"/>
<circle cx="310.10" cy="225.40" r="1.6" fill="#2f7e93"/>
<rect x="205.80" y="183.45" width="117.65" height="117.05" fill="none" stroke="#7c7c7c" stroke-width="1.25"/>
<line x1="217.40" y1="300.50" x2="217.40" y2="305.10" stroke="#bdbdbd" stroke-width="0.8"/>
<line x1="240.75" y1="300.50" x2="240.75" y2="305.10" stroke="#bdbdbd" stroke-width="0.8"/>
<line x1="264.10" y1="300.50" x2="264.10" y2="305.10" stroke="#bdbdbd" stroke-width="0.8"/>
<line x1="287.45" y1="300.50" x2="287.45" y2="305.10" stroke="#bdbdbd" stroke-width="0.8"/>
<line x1="310.80" y1="300.50" x2="310.80" y2="305.10" stroke="#bdbdbd" stroke-width="0.8"/>
<text x="217.40" y="315.35" font-size="7.8" text-anchor="middle" font-weight="normal" fill="#1a1a1a" stroke="#1a1a1a" stroke-width="0.32">60</text>
<text x="240.75" y="315.35" font-size="7.8" text-anchor="middle" font-weight="normal" fill="#1a1a1a" stroke="#1a1a1a" stroke-width="0.32">80</text>
<text x="264.10" y="315.35" font-size="7.8" text-anchor="middle" font-weight="normal" fill="#1a1a1a" stroke="#1a1a1a" stroke-width="0.32">100</text>
<text x="287.45" y="315.35" font-size="7.8" text-anchor="middle" font-weight="normal" fill="#1a1a1a" stroke="#1a1a1a" stroke-width="0.32">120</text>
<text x="310.80" y="315.35" font-size="7.8" text-anchor="middle" font-weight="normal" fill="#1a1a1a" stroke="#1a1a1a" stroke-width="0.32">140</text>
<text x="264.82" y="326.50" font-size="7.75" text-anchor="middle" font-weight="normal" fill="#1a1a1a" stroke="#1a1a1a" stroke-width="0.32">Molecular Mass [Da]</text>
<line x1="201.20" y1="296.30" x2="205.80" y2="296.30" stroke="#bdbdbd" stroke-width="0.8"/>
<text x="197.20" y="296.30" font-size="7.6" text-anchor="middle" font-weight="normal" fill="#1a1a1a" stroke="#1a1a1a" stroke-width="0.32" transform="rotate(-90 197.20 296.30)">0.0</text>
<line x1="201.20" y1="274.55" x2="205.80" y2="274.55" stroke="#bdbdbd" stroke-width="0.8"/>
<text x="197.20" y="274.55" font-size="7.6" text-anchor="middle" font-weight="normal" fill="#1a1a1a" stroke="#1a1a1a" stroke-width="0.32" transform="rotate(-90 197.20 274.55)">0.5</text>
<line x1="201.20" y1="252.80" x2="205.80" y2="252.80" stroke="#bdbdbd" stroke-width="0.8"/>
<text x="197.20" y="252.80" font-size="7.6" text-anchor="middle" font-weight="normal" fill="#1a1a1a" stroke="#1a1a1a" stroke-width="0.32" transform="rotate(-90 197.20 252.80)">1.0</text>
<line x1="201.20" y1="231.05" x2="205.80" y2="231.05" stroke="#bdbdbd" stroke-width="0.8"/>
<text x="197.20" y="231.05" font-size="7.6" text-anchor="middle" font-weight="normal" fill="#1a1a1a" stroke="#1a1a1a" stroke-width="0.32" transform="rotate(-90 197.20 231.05)">1.5</text>
<line x1="201.20" y1="209.30" x2="205.80" y2="209.30" stroke="#bdbdbd" stroke-width="0.8"/>
<text x="197.20" y="209.30" font-size="7.6" text-anchor="middle" font-weight="normal" fill="#1a1a1a" stroke="#1a1a1a" stroke-width="0.32" transform="rotate(-90 197.20 209.30)">2.0</text>
<line x1="201.20" y1="187.55" x2="205.80" y2="187.55" stroke="#bdbdbd" stroke-width="0.8"/>
<text x="197.20" y="187.55" font-size="7.6" text-anchor="middle" font-weight="normal" fill="#1a1a1a" stroke="#1a1a1a" stroke-width="0.32" transform="rotate(-90 197.20 187.55)">2.5</text>
<text x="185.80" y="241.97" font-size="7.8" text-anchor="middle" font-weight="normal" fill="#1a1a1a" stroke="#1a1a1a" stroke-width="0.32" transform="rotate(-90 185.80 241.97)">&lt; Z^2 &gt;</text>
<text x="323.45" y="177.55" font-size="7.4" text-anchor="end" font-weight="normal" fill="#1a1a1a" stroke="#1a1a1a" stroke-width="0.12">(e)</text>
<text x="325.65" y="185.45" font-size="5.7" text-anchor="start" font-weight="bold" fill="#111" stroke="#111" stroke-width="0.12">Mean</text>
<line x1="391.30" y1="11.40" x2="391.30" y2="128.65" stroke="#f1f1f1" stroke-width="1"/>
<line x1="418.90" y1="11.40" x2="418.90" y2="128.65" stroke="#f1f1f1" stroke-width="1"/>
<line x1="446.50" y1="11.40" x2="446.50" y2="128.65" stroke="#f1f1f1" stroke-width="1"/>
<line x1="474.10" y1="11.40" x2="474.10" y2="128.65" stroke="#f1f1f1" stroke-width="1"/>
<line x1="501.70" y1="11.40" x2="501.70" y2="128.65" stroke="#f1f1f1" stroke-width="1"/>
<line x1="384.60" y1="113.54" x2="502.25" y2="113.54" stroke="#f1f1f1" stroke-width="1"/>
<line x1="384.60" y1="91.82" x2="502.25" y2="91.82" stroke="#f1f1f1" stroke-width="1"/>
<line x1="384.60" y1="70.10" x2="502.25" y2="70.10" stroke="#f1f1f1" stroke-width="1"/>
<line x1="384.60" y1="48.38" x2="502.25" y2="48.38" stroke="#f1f1f1" stroke-width="1"/>
<line x1="384.60" y1="26.66" x2="502.25" y2="26.66" stroke="#f1f1f1" stroke-width="1"/>
<line x1="384.60" y1="70.10" x2="502.25" y2="70.10" stroke="#756868" stroke-width="1.15" stroke-dasharray="1.7 1.65"/>
<text x="384.40" y="72.40" font-size="6.4" text-anchor="end" font-weight="bold" fill="#33222a" stroke="#33222a" stroke-width="0.5">0</text>
<circle cx="501.65" cy="69.01" r="1.5" fill="#3d6a75"/>
<text x="505.85" y="71.41" font-size="5.8" text-anchor="start" font-weight="normal" fill="#5694a7" stroke="#5694a7" stroke-width="0.2">0.01</text>
<line x1="450.30" y1="74.00" x2="476.40" y2="84.20" stroke="#eab0a8" stroke-width="0.9"/>
<line x1="405.97" y1="61.83" x2="405.97" y2="92.24" stroke="#46a1b7" stroke-width="1.4" stroke-opacity="0.82"/>
<circle cx="405.97" cy="79.45" r="1.4" fill="#2f7e93"/>
<line x1="417.54" y1="57.36" x2="417.54" y2="83.78" stroke="#46a1b7" stroke-width="1.4" stroke-opacity="0.82"/>
<circle cx="417.54" cy="73.42" r="1.4" fill="#2f7e93"/>
<line x1="413.54" y1="38.83" x2="413.54" y2="68.68" stroke="#8ccfdc" stroke-width="1.4" stroke-opacity="0.82"/>
<circle cx="413.54" cy="58.36" r="1.4" fill="#2f7e93"/>
<line x1="420.96" y1="60.61" x2="420.96" y2="95.27" stroke="#46a1b7" stroke-width="1.4" stroke-opacity="0.82"/>
<circle cx="420.96" cy="81.12" r="1.4" fill="#2f7e93"/>
<line x1="411.96" y1="38.51" x2="411.96" y2="71.62" stroke="#46a1b7" stroke-width="1.4" stroke-opacity="0.82"/>
<circle cx="411.96" cy="59.94" r="1.4" fill="#2f7e93"/>
<line x1="405.25" y1="72.11" x2="405.25" y2="101.07" stroke="#46a1b7" stroke-width="1.4" stroke-opacity="0.82"/>
<circle cx="405.25" cy="87.55" r="1.4" fill="#2f7e93"/>
<line x1="406.36" y1="36.87" x2="406.36" y2="67.61" stroke="#46a1b7" stroke-width="1.4" stroke-opacity="0.82"/>
<circle cx="406.36" cy="57.26" r="1.4" fill="#2f7e93"/>
<line x1="420.44" y1="67.34" x2="420.44" y2="102.02" stroke="#46a1b7" stroke-width="1.4" stroke-opacity="0.82"/>
<circle cx="420.44" cy="86.39" r="1.4" fill="#2f7e93"/>
<line x1="405.20" y1="52.27" x2="405.20" y2="82.21" stroke="#46a1b7" stroke-width="1.4" stroke-opacity="0.82"/>
<circle cx="405.20" cy="72.20" r="1.4" fill="#2f7e93"/>
<line x1="410.37" y1="53.00" x2="410.37" y2="80.28" stroke="#46a1b7" stroke-width="1.4" stroke-opacity="0.82"/>
<circle cx="410.37" cy="68.42" r="1.4" fill="#2f7e93"/>
<line x1="403.48" y1="40.55" x2="403.48" y2="77.10" stroke="#46a1b7" stroke-width="1.4" stroke-opacity="0.82"/>
<circle cx="403.48" cy="59.17" r="1.4" fill="#2f7e93"/>
<line x1="412.91" y1="68.77" x2="412.91" y2="95.53" stroke="#46a1b7" stroke-width="1.4" stroke-opacity="0.82"/>
<circle cx="412.91" cy="81.44" r="1.4" fill="#2f7e93"/>
<line x1="406.25" y1="47.60" x2="406.25" y2="79.05" stroke="#46a1b7" stroke-width="1.4" stroke-opacity="0.82"/>
<circle cx="406.25" cy="61.78" r="1.4" fill="#2f7e93"/>
<line x1="408.52" y1="48.72" x2="408.52" y2="75.65" stroke="#46a1b7" stroke-width="1.4" stroke-opacity="0.82"/>
<circle cx="408.52" cy="59.51" r="1.4" fill="#2f7e93"/>
<line x1="415.30" y1="58.20" x2="415.30" y2="96.56" stroke="#46a1b7" stroke-width="1.4" stroke-opacity="0.82"/>
<circle cx="415.30" cy="78.98" r="1.4" fill="#2f7e93"/>
<line x1="420.31" y1="55.48" x2="420.31" y2="88.99" stroke="#46a1b7" stroke-width="1.4" stroke-opacity="0.82"/>
<circle cx="420.31" cy="76.08" r="1.4" fill="#2f7e93"/>
<line x1="418.77" y1="50.69" x2="418.77" y2="77.57" stroke="#46a1b7" stroke-width="1.4" stroke-opacity="0.82"/>
<circle cx="418.77" cy="61.52" r="1.4" fill="#2f7e93"/>
<line x1="418.07" y1="44.68" x2="418.07" y2="68.67" stroke="#8ccfdc" stroke-width="1.4" stroke-opacity="0.82"/>
<circle cx="418.07" cy="57.77" r="1.4" fill="#2f7e93"/>
<line x1="404.25" y1="46.71" x2="404.25" y2="85.33" stroke="#46a1b7" stroke-width="1.4" stroke-opacity="0.82"/>
<circle cx="404.25" cy="67.49" r="1.4" fill="#2f7e93"/>
<line x1="407.54" y1="72.29" x2="407.54" y2="102.08" stroke="#46a1b7" stroke-width="1.4" stroke-opacity="0.82"/>
<circle cx="407.54" cy="88.60" r="1.4" fill="#2f7e93"/>
<line x1="418.09" y1="62.46" x2="418.09" y2="97.05" stroke="#46a1b7" stroke-width="1.4" stroke-opacity="0.82"/>
<circle cx="418.09" cy="83.04" r="1.4" fill="#2f7e93"/>
<line x1="418.29" y1="50.06" x2="418.29" y2="77.23" stroke="#8ccfdc" stroke-width="1.4" stroke-opacity="0.82"/>
<circle cx="418.29" cy="66.47" r="1.4" fill="#2f7e93"/>
<line x1="415.34" y1="78.15" x2="415.34" y2="102.37" stroke="#46a1b7" stroke-width="1.4" stroke-opacity="0.82"/>
<circle cx="415.34" cy="88.44" r="1.4" fill="#2f7e93"/>
<line x1="413.52" y1="49.88" x2="413.52" y2="82.33" stroke="#8ccfdc" stroke-width="1.4" stroke-opacity="0.82"/>
<circle cx="413.52" cy="64.74" r="1.4" fill="#2f7e93"/>
<line x1="404.71" y1="48.89" x2="404.71" y2="71.66" stroke="#46a1b7" stroke-width="1.4" stroke-opacity="0.82"/>
<circle cx="404.71" cy="59.19" r="1.4" fill="#2f7e93"/>
<line x1="414.80" y1="43.84" x2="414.80" y2="71.54" stroke="#46a1b7" stroke-width="1.4" stroke-opacity="0.82"/>
<circle cx="414.80" cy="60.30" r="1.4" fill="#2f7e93"/>
<line x1="405.99" y1="47.72" x2="405.99" y2="77.35" stroke="#8ccfdc" stroke-width="1.4" stroke-opacity="0.82"/>
<circle cx="405.99" cy="62.25" r="1.4" fill="#2f7e93"/>
<line x1="415.80" y1="66.42" x2="415.80" y2="101.62" stroke="#46a1b7" stroke-width="1.4" stroke-opacity="0.82"/>
<circle cx="415.80" cy="85.71" r="1.4" fill="#2f7e93"/>
<line x1="404.14" y1="69.87" x2="404.14" y2="97.09" stroke="#46a1b7" stroke-width="1.4" stroke-opacity="0.82"/>
<circle cx="404.14" cy="81.97" r="1.4" fill="#2f7e93"/>
<line x1="408.65" y1="42.76" x2="408.65" y2="68.52" stroke="#46a1b7" stroke-width="1.4" stroke-opacity="0.82"/>
<circle cx="408.65" cy="57.42" r="1.4" fill="#2f7e93"/>
<line x1="412.06" y1="53.30" x2="412.06" y2="83.66" stroke="#46a1b7" stroke-width="1.4" stroke-opacity="0.82"/>
<circle cx="412.06" cy="74.68" r="1.4" fill="#2f7e93"/>
<line x1="416.22" y1="75.16" x2="416.22" y2="103.58" stroke="#46a1b7" stroke-width="1.4" stroke-opacity="0.82"/>
<circle cx="416.22" cy="88.88" r="1.4" fill="#2f7e93"/>
<line x1="404.15" y1="61.98" x2="404.15" y2="95.25" stroke="#46a1b7" stroke-width="1.4" stroke-opacity="0.82"/>
<circle cx="404.15" cy="83.70" r="1.4" fill="#2f7e93"/>
<line x1="404.94" y1="47.71" x2="404.94" y2="74.73" stroke="#46a1b7" stroke-width="1.4" stroke-opacity="0.82"/>
<circle cx="404.94" cy="58.59" r="1.4" fill="#2f7e93"/>
<line x1="414.19" y1="38.94" x2="414.19" y2="69.10" stroke="#46a1b7" stroke-width="1.4" stroke-opacity="0.82"/>
<circle cx="414.19" cy="56.67" r="1.4" fill="#2f7e93"/>
<line x1="410.23" y1="53.08" x2="410.23" y2="76.01" stroke="#46a1b7" stroke-width="1.4" stroke-opacity="0.82"/>
<circle cx="410.23" cy="63.67" r="1.4" fill="#2f7e93"/>
<line x1="417.71" y1="65.14" x2="417.71" y2="90.97" stroke="#46a1b7" stroke-width="1.4" stroke-opacity="0.82"/>
<circle cx="417.71" cy="80.61" r="1.4" fill="#2f7e93"/>
<line x1="414.37" y1="77.72" x2="414.37" y2="101.54" stroke="#46a1b7" stroke-width="1.4" stroke-opacity="0.82"/>
<circle cx="414.37" cy="88.75" r="1.4" fill="#2f7e93"/>
<line x1="419.03" y1="64.98" x2="419.03" y2="98.09" stroke="#46a1b7" stroke-width="1.4" stroke-opacity="0.82"/>
<circle cx="419.03" cy="82.50" r="1.4" fill="#2f7e93"/>
<line x1="415.58" y1="66.28" x2="415.58" y2="96.39" stroke="#46a1b7" stroke-width="1.4" stroke-opacity="0.82"/>
<circle cx="415.58" cy="79.22" r="1.4" fill="#2f7e93"/>
<line x1="417.85" y1="66.90" x2="417.85" y2="96.83" stroke="#46a1b7" stroke-width="1.4" stroke-opacity="0.82"/>
<circle cx="417.85" cy="88.77" r="1.4" fill="#2f7e93"/>
<line x1="410.04" y1="44.31" x2="410.04" y2="69.74" stroke="#46a1b7" stroke-width="1.4" stroke-opacity="0.82"/>
<circle cx="410.04" cy="60.94" r="1.4" fill="#2f7e93"/>
<line x1="416.36" y1="60.42" x2="416.36" y2="89.28" stroke="#46a1b7" stroke-width="1.4" stroke-opacity="0.82"/>
<circle cx="416.36" cy="71.72" r="1.4" fill="#2f7e93"/>
<line x1="409.04" y1="59.63" x2="409.04" y2="88.42" stroke="#46a1b7" stroke-width="1.4" stroke-opacity="0.82"/>
<circle cx="409.04" cy="77.81" r="1.4" fill="#2f7e93"/>
<line x1="407.58" y1="72.90" x2="407.58" y2="99.55" stroke="#46a1b7" stroke-width="1.4" stroke-opacity="0.82"/>
<circle cx="407.58" cy="84.74" r="1.4" fill="#2f7e93"/>
<line x1="407.99" y1="47.60" x2="407.99" y2="81.56" stroke="#46a1b7" stroke-width="1.4" stroke-opacity="0.82"/>
<circle cx="407.99" cy="68.89" r="1.4" fill="#2f7e93"/>
<line x1="408.05" y1="47.31" x2="408.05" y2="72.65" stroke="#46a1b7" stroke-width="1.4" stroke-opacity="0.82"/>
<circle cx="408.05" cy="61.93" r="1.4" fill="#2f7e93"/>
<line x1="403.62" y1="62.34" x2="403.62" y2="98.60" stroke="#46a1b7" stroke-width="1.4" stroke-opacity="0.82"/>
<circle cx="403.62" cy="83.55" r="1.4" fill="#2f7e93"/>
<line x1="403.71" y1="58.26" x2="403.71" y2="87.07" stroke="#46a1b7" stroke-width="1.4" stroke-opacity="0.82"/>
<circle cx="403.71" cy="76.67" r="1.4" fill="#2f7e93"/>
<line x1="404.70" y1="51.06" x2="404.70" y2="83.45" stroke="#8ccfdc" stroke-width="1.4" stroke-opacity="0.82"/>
<circle cx="404.70" cy="66.50" r="1.4" fill="#2f7e93"/>
<line x1="424.04" y1="60.80" x2="424.04" y2="86.58" stroke="#46a1b7" stroke-width="1.4" stroke-opacity="0.82"/>
<circle cx="424.04" cy="78.09" r="1.4" fill="#2f7e93"/>
<line x1="419.49" y1="44.93" x2="419.49" y2="81.39" stroke="#46a1b7" stroke-width="1.4" stroke-opacity="0.82"/>
<circle cx="419.49" cy="64.95" r="1.4" fill="#2f7e93"/>
<line x1="409.33" y1="60.00" x2="409.33" y2="89.80" stroke="#46a1b7" stroke-width="1.4" stroke-opacity="0.82"/>
<circle cx="409.33" cy="72.81" r="1.4" fill="#2f7e93"/>
<line x1="412.58" y1="41.16" x2="412.58" y2="75.38" stroke="#46a1b7" stroke-width="1.4" stroke-opacity="0.82"/>
<circle cx="412.58" cy="61.31" r="1.4" fill="#2f7e93"/>
<line x1="424.20" y1="52.74" x2="424.20" y2="78.97" stroke="#46a1b7" stroke-width="1.4" stroke-opacity="0.82"/>
<circle cx="424.20" cy="67.44" r="1.4" fill="#2f7e93"/>
<line x1="425.91" y1="48.89" x2="425.91" y2="74.68" stroke="#46a1b7" stroke-width="1.4" stroke-opacity="0.82"/>
<circle cx="425.91" cy="61.56" r="1.4" fill="#2f7e93"/>
<line x1="414.13" y1="48.92" x2="414.13" y2="74.24" stroke="#46a1b7" stroke-width="1.4" stroke-opacity="0.82"/>
<circle cx="414.13" cy="61.29" r="1.4" fill="#2f7e93"/>
<line x1="412.01" y1="40.98" x2="412.01" y2="75.68" stroke="#46a1b7" stroke-width="1.4" stroke-opacity="0.82"/>
<circle cx="412.01" cy="62.29" r="1.4" fill="#2f7e93"/>
<line x1="422.83" y1="58.76" x2="422.83" y2="87.81" stroke="#8ccfdc" stroke-width="1.4" stroke-opacity="0.82"/>
<circle cx="422.83" cy="71.54" r="1.4" fill="#2f7e93"/>
<line x1="415.69" y1="53.43" x2="415.69" y2="81.46" stroke="#46a1b7" stroke-width="1.4" stroke-opacity="0.82"/>
<circle cx="415.69" cy="71.72" r="1.4" fill="#2f7e93"/>
<line x1="412.08" y1="58.65" x2="412.08" y2="95.78" stroke="#46a1b7" stroke-width="1.4" stroke-opacity="0.82"/>
<circle cx="412.08" cy="78.72" r="1.4" fill="#2f7e93"/>
<line x1="423.78" y1="62.53" x2="423.78" y2="96.95" stroke="#46a1b7" stroke-width="1.4" stroke-opacity="0.82"/>
<circle cx="423.78" cy="79.86" r="1.4" fill="#2f7e93"/>
<line x1="406.00" y1="35.00" x2="406.00" y2="95.00" stroke="#46a1b7" stroke-width="1.4" stroke-opacity="0.8"/>
<line x1="404.70" y1="31.00" x2="404.70" y2="70.00" stroke="#46a1b7" stroke-width="1.4" stroke-opacity="0.8"/>
<circle cx="404.70" cy="37.50" r="1.6" fill="#2f7e93"/>
<line x1="408.50" y1="40.00" x2="408.50" y2="98.00" stroke="#46a1b7" stroke-width="1.4" stroke-opacity="0.8"/>
<line x1="419.30" y1="38.10" x2="419.30" y2="90.00" stroke="#46a1b7" stroke-width="1.4" stroke-opacity="0.8"/>
<line x1="414.00" y1="50.00" x2="414.00" y2="109.50" stroke="#46a1b7" stroke-width="1.4" stroke-opacity="0.8"/>
<line x1="411.00" y1="45.00" x2="411.00" y2="100.00" stroke="#46a1b7" stroke-width="1.4" stroke-opacity="0.8"/>
<circle cx="411.00" cy="60.00" r="1.6" fill="#2f7e93"/>
<line x1="416.50" y1="44.00" x2="416.50" y2="96.00" stroke="#46a1b7" stroke-width="1.4" stroke-opacity="0.8"/>
<line x1="397.60" y1="58.60" x2="397.60" y2="84.00" stroke="#46a1b7" stroke-width="1.4" stroke-opacity="0.8"/>
<circle cx="397.60" cy="61.90" r="1.6" fill="#2f7e93"/>
<line x1="399.50" y1="60.00" x2="399.50" y2="90.00" stroke="#46a1b7" stroke-width="1.4" stroke-opacity="0.8"/>
<line x1="391.00" y1="26.50" x2="391.00" y2="66.30" stroke="#d05548" stroke-width="1.4" stroke-opacity="0.8"/>
<circle cx="391.00" cy="39.80" r="1.6" fill="#bf2f2b"/>
<line x1="391.40" y1="32.00" x2="391.40" y2="64.00" stroke="#d05548" stroke-width="1.4" stroke-opacity="0.8"/>
<circle cx="391.40" cy="47.50" r="1.6" fill="#bf2f2b"/>
<line x1="391.80" y1="36.00" x2="391.80" y2="66.00" stroke="#d05548" stroke-width="1.4" stroke-opacity="0.8"/>
<circle cx="391.80" cy="52.00" r="1.6" fill="#bf2f2b"/>
<line x1="392.30" y1="33.00" x2="392.30" y2="64.00" stroke="#d05548" stroke-width="1.4" stroke-opacity="0.8"/>
<circle cx="392.30" cy="50.80" r="1.6" fill="#bf2f2b"/>
<line x1="397.60" y1="25.40" x2="397.60" y2="58.00" stroke="#d05548" stroke-width="1.4" stroke-opacity="0.8"/>
<circle cx="397.60" cy="39.30" r="1.6" fill="#bf2f2b"/>
<line x1="398.70" y1="33.00" x2="398.70" y2="64.00" stroke="#d05548" stroke-width="1.4" stroke-opacity="0.8"/>
<circle cx="398.70" cy="44.20" r="1.6" fill="#bf2f2b"/>
<line x1="399.80" y1="42.00" x2="399.80" y2="66.00" stroke="#d05548" stroke-width="1.4" stroke-opacity="0.8"/>
<circle cx="399.80" cy="54.10" r="1.6" fill="#bf2f2b"/>
<line x1="402.30" y1="20.00" x2="402.30" y2="62.00" stroke="#d05548" stroke-width="1.4" stroke-opacity="0.8"/>
<circle cx="402.30" cy="43.10" r="1.6" fill="#bf2f2b"/>
<line x1="402.70" y1="40.00" x2="402.70" y2="66.00" stroke="#d05548" stroke-width="1.4" stroke-opacity="0.8"/>
<circle cx="402.70" cy="54.10" r="1.6" fill="#bf2f2b"/>
<line x1="404.50" y1="14.30" x2="404.50" y2="55.20" stroke="#d05548" stroke-width="1.4" stroke-opacity="0.8"/>
<circle cx="404.50" cy="37.10" r="1.6" fill="#bf2f2b"/>
<line x1="407.70" y1="29.80" x2="407.70" y2="62.00" stroke="#d05548" stroke-width="1.4" stroke-opacity="0.8"/>
<circle cx="407.70" cy="46.40" r="1.6" fill="#bf2f2b"/>
<line x1="423.00" y1="79.30" x2="423.00" y2="109.50" stroke="#d05548" stroke-width="1.4" stroke-opacity="0.8"/>
<circle cx="423.00" cy="92.60" r="1.6" fill="#bf2f2b"/>
<line x1="422.40" y1="82.00" x2="422.40" y2="105.00" stroke="#d05548" stroke-width="1.4" stroke-opacity="0.8"/>
<circle cx="422.40" cy="90.00" r="1.6" fill="#bf2f2b"/>
<line x1="426.70" y1="60.00" x2="426.70" y2="116.80" stroke="#78a8bb" stroke-width="1.4" stroke-opacity="0.8"/>
<circle cx="426.70" cy="85.40" r="1.6" fill="#2f7e93"/>
<line x1="427.20" y1="88.00" x2="427.20" y2="104.00" stroke="#78a8bb" stroke-width="1.4" stroke-opacity="0.8"/>
<circle cx="427.20" cy="95.00" r="1.6" fill="#8a9aa0"/>
<line x1="429.70" y1="83.00" x2="429.70" y2="105.90" stroke="#d05548" stroke-width="1.4" stroke-opacity="0.8"/>
<circle cx="429.70" cy="91.40" r="1.6" fill="#bf2f2b"/>
<line x1="432.10" y1="60.00" x2="432.10" y2="87.80" stroke="#46a1b7" stroke-width="1.4" stroke-opacity="0.8"/>
<circle cx="432.10" cy="73.90" r="1.6" fill="#2f7e93"/>
<line x1="435.70" y1="70.00" x2="435.70" y2="96.00" stroke="#78a8bb" stroke-width="1.4" stroke-opacity="0.8"/>
<circle cx="435.70" cy="82.30" r="1.6" fill="#2f7e93"/>
<line x1="438.10" y1="74.50" x2="438.10" y2="110.70" stroke="#d05548" stroke-width="1.4" stroke-opacity="0.8"/>
<circle cx="438.10" cy="89.60" r="1.6" fill="#bf2f2b"/>
<circle cx="437.5" cy="94.4" r="1.6" fill="#bf2f2b"/>
<line x1="442.90" y1="59.70" x2="442.90" y2="77.50" stroke="#78a8bb" stroke-width="1.4" stroke-opacity="0.8"/>
<circle cx="442.90" cy="70.30" r="1.6" fill="#2f7e93"/>
<line x1="449.60" y1="55.70" x2="449.60" y2="91.80" stroke="#78a8bb" stroke-width="1.4" stroke-opacity="0.8"/>
<circle cx="449.60" cy="73.20" r="1.6" fill="#2f7e93"/>
<line x1="476.90" y1="68.20" x2="476.90" y2="102.00" stroke="#78a8bb" stroke-width="1.4" stroke-opacity="0.8"/>
<circle cx="476.90" cy="84.60" r="1.6" fill="#2f7e93"/>
<rect x="384.60" y="11.40" width="117.65" height="117.25" fill="none" stroke="#7c7c7c" stroke-width="1.25"/>
<line x1="391.30" y1="128.65" x2="391.30" y2="133.25" stroke="#bdbdbd" stroke-width="0.8"/>
<line x1="418.90" y1="128.65" x2="418.90" y2="133.25" stroke="#bdbdbd" stroke-width="0.8"/>
<line x1="446.50" y1="128.65" x2="446.50" y2="133.25" stroke="#bdbdbd" stroke-width="0.8"/>
<line x1="474.10" y1="128.65" x2="474.10" y2="133.25" stroke="#bdbdbd" stroke-width="0.8"/>
<line x1="501.70" y1="128.65" x2="501.70" y2="133.25" stroke="#bdbdbd" stroke-width="0.8"/>
<text x="391.30" y="143.50" font-size="7.8" text-anchor="middle" font-weight="normal" fill="#1a1a1a" stroke="#1a1a1a" stroke-width="0.32">0.0</text>
<text x="418.90" y="143.50" font-size="7.8" text-anchor="middle" font-weight="normal" fill="#1a1a1a" stroke="#1a1a1a" stroke-width="0.32">0.2</text>
<text x="446.50" y="143.50" font-size="7.8" text-anchor="middle" font-weight="normal" fill="#1a1a1a" stroke="#1a1a1a" stroke-width="0.32">0.4</text>
<text x="474.10" y="143.50" font-size="7.8" text-anchor="middle" font-weight="normal" fill="#1a1a1a" stroke="#1a1a1a" stroke-width="0.32">0.6</text>
<text x="501.70" y="143.50" font-size="7.8" text-anchor="middle" font-weight="normal" fill="#1a1a1a" stroke="#1a1a1a" stroke-width="0.32">0.8</text>
<text x="443.62" y="154.65" font-size="7.75" text-anchor="middle" font-weight="normal" fill="#1a1a1a" stroke="#1a1a1a" stroke-width="0.32">Fraction of heteroatoms</text>
<line x1="380.00" y1="113.54" x2="384.60" y2="113.54" stroke="#bdbdbd" stroke-width="0.8"/>
<text x="376.00" y="113.54" font-size="7.6" text-anchor="middle" font-weight="normal" fill="#1a1a1a" stroke="#1a1a1a" stroke-width="0.32" transform="rotate(-90 376.00 113.54)">-0.4</text>
<line x1="380.00" y1="91.82" x2="384.60" y2="91.82" stroke="#bdbdbd" stroke-width="0.8"/>
<text x="376.00" y="91.82" font-size="7.6" text-anchor="middle" font-weight="normal" fill="#1a1a1a" stroke="#1a1a1a" stroke-width="0.32" transform="rotate(-90 376.00 91.82)">-0.2</text>
<line x1="380.00" y1="70.10" x2="384.60" y2="70.10" stroke="#bdbdbd" stroke-width="0.8"/>
<text x="376.00" y="70.10" font-size="7.6" text-anchor="middle" font-weight="normal" fill="#1a1a1a" stroke="#1a1a1a" stroke-width="0.32" transform="rotate(-90 376.00 70.10)">0.0</text>
<line x1="380.00" y1="48.38" x2="384.60" y2="48.38" stroke="#bdbdbd" stroke-width="0.8"/>
<text x="376.00" y="48.38" font-size="7.6" text-anchor="middle" font-weight="normal" fill="#1a1a1a" stroke="#1a1a1a" stroke-width="0.32" transform="rotate(-90 376.00 48.38)">0.2</text>
<line x1="380.00" y1="26.66" x2="384.60" y2="26.66" stroke="#bdbdbd" stroke-width="0.8"/>
<text x="376.00" y="26.66" font-size="7.6" text-anchor="middle" font-weight="normal" fill="#1a1a1a" stroke="#1a1a1a" stroke-width="0.32" transform="rotate(-90 376.00 26.66)">0.4</text>
<text x="364.60" y="70.03" font-size="7.8" text-anchor="middle" font-weight="normal" fill="#1a1a1a" stroke="#1a1a1a" stroke-width="0.32" transform="rotate(-90 364.60 70.03)">&lt; Z &gt;</text>
<text x="502.25" y="5.50" font-size="7.4" text-anchor="end" font-weight="normal" fill="#1a1a1a" stroke="#1a1a1a" stroke-width="0.12">(c)</text>
<text x="504.45" y="13.40" font-size="5.7" text-anchor="start" font-weight="bold" fill="#111" stroke="#111" stroke-width="0.12">Mean</text>
<line x1="391.30" y1="183.45" x2="391.30" y2="300.50" stroke="#f1f1f1" stroke-width="1"/>
<line x1="418.90" y1="183.45" x2="418.90" y2="300.50" stroke="#f1f1f1" stroke-width="1"/>
<line x1="446.50" y1="183.45" x2="446.50" y2="300.50" stroke="#f1f1f1" stroke-width="1"/>
<line x1="474.10" y1="183.45" x2="474.10" y2="300.50" stroke="#f1f1f1" stroke-width="1"/>
<line x1="501.70" y1="183.45" x2="501.70" y2="300.50" stroke="#f1f1f1" stroke-width="1"/>
<line x1="384.60" y1="296.30" x2="502.25" y2="296.30" stroke="#f1f1f1" stroke-width="1"/>
<line x1="384.60" y1="274.55" x2="502.25" y2="274.55" stroke="#f1f1f1" stroke-width="1"/>
<line x1="384.60" y1="252.80" x2="502.25" y2="252.80" stroke="#f1f1f1" stroke-width="1"/>
<line x1="384.60" y1="231.05" x2="502.25" y2="231.05" stroke="#f1f1f1" stroke-width="1"/>
<line x1="384.60" y1="209.30" x2="502.25" y2="209.30" stroke="#f1f1f1" stroke-width="1"/>
<line x1="384.60" y1="187.55" x2="502.25" y2="187.55" stroke="#f1f1f1" stroke-width="1"/>
<line x1="384.60" y1="252.80" x2="502.25" y2="252.80" stroke="#756868" stroke-width="1.15" stroke-dasharray="1.7 1.65"/>
<text x="381.00" y="254.70" font-size="5.6" text-anchor="end" font-weight="bold" fill="#2a1a1a" stroke="#2a1a1a" stroke-width="0.35">1</text>
<line x1="382.40" y1="252.80" x2="384.60" y2="252.80" stroke="#2a1a1a" stroke-width="1.2"/>
<circle cx="501.65" cy="254.54" r="1.5" fill="#3d6a75"/>
<text x="505.85" y="256.94" font-size="5.8" text-anchor="start" font-weight="normal" fill="#5694a7" stroke="#5694a7" stroke-width="0.2">0.96</text>
<line x1="453.90" y1="253.80" x2="472.90" y2="256.60" stroke="#eab0a8" stroke-width="0.9"/>
<line x1="442.90" y1="278.00" x2="447.50" y2="262.00" stroke="#f0c8c2" stroke-width="0.9"/>
<line x1="406.60" y1="184.00" x2="406.60" y2="250.00" stroke="#78a8bb" stroke-width="1.4" stroke-opacity="0.8"/>
<line x1="419.30" y1="184.00" x2="419.30" y2="258.00" stroke="#78a8bb" stroke-width="1.4" stroke-opacity="0.8"/>
<line x1="405.60" y1="184.00" x2="405.60" y2="238.00" stroke="#d05548" stroke-width="2.0" stroke-opacity="0.8"/>
<circle cx="405.60" cy="224.50" r="1.6" fill="#bf2f2b"/>
<line x1="404.60" y1="205.00" x2="404.60" y2="245.00" stroke="#d05548" stroke-width="1.4" stroke-opacity="0.8"/>
<circle cx="404.60" cy="212.00" r="1.6" fill="#bf2f2b"/>
<line x1="413.30" y1="199.60" x2="413.30" y2="258.00" stroke="#d05548" stroke-width="2.4" stroke-opacity="0.8"/>
<circle cx="413.30" cy="210.00" r="1.6" fill="#bf2f2b"/>
<line x1="414.30" y1="205.00" x2="414.30" y2="250.00" stroke="#d05548" stroke-width="1.6" stroke-opacity="0.8"/>
<circle cx="414.30" cy="222.00" r="1.6" fill="#bf2f2b"/>
<line x1="415.20" y1="194.00" x2="415.20" y2="240.00" stroke="#8ccfdc" stroke-width="2.2" stroke-opacity="0.8"/>
<line x1="426.00" y1="200.70" x2="426.00" y2="262.00" stroke="#c0a0a8" stroke-width="1.6" stroke-opacity="0.8"/>
<line x1="423.70" y1="216.20" x2="423.70" y2="262.00" stroke="#e88a76" stroke-width="1.4" stroke-opacity="0.8"/>
<circle cx="423.70" cy="237.70" r="1.6" fill="#bf2f2b"/>
<line x1="424.80" y1="218.00" x2="424.80" y2="262.00" stroke="#e88a76" stroke-width="1.4" stroke-opacity="0.8"/>
<circle cx="424.80" cy="237.20" r="1.6" fill="#bf2f2b"/>
<line x1="427.00" y1="222.00" x2="427.00" y2="264.00" stroke="#e88a76" stroke-width="1.4" stroke-opacity="0.8"/>
<circle cx="427.00" cy="240.50" r="1.6" fill="#bf2f2b"/>
<line x1="398.80" y1="229.50" x2="398.80" y2="263.60" stroke="#46a1b7" stroke-width="1.4" stroke-opacity="0.8"/>
<line x1="421.50" y1="225.00" x2="421.50" y2="265.00" stroke="#46a1b7" stroke-width="1.4" stroke-opacity="0.8"/>
<line x1="409.21" y1="224.77" x2="409.21" y2="247.04" stroke="#8ccfdc" stroke-width="1.4" stroke-opacity="0.82"/>
<circle cx="409.21" cy="231.05" r="1.4" fill="#2f7e93"/>
<line x1="407.06" y1="221.77" x2="407.06" y2="246.76" stroke="#46a1b7" stroke-width="1.4" stroke-opacity="0.82"/>
<circle cx="407.06" cy="238.44" r="1.4" fill="#2f7e93"/>
<line x1="406.71" y1="245.33" x2="406.71" y2="274.12" stroke="#8ccfdc" stroke-width="1.4" stroke-opacity="0.82"/>
<circle cx="406.71" cy="259.56" r="1.4" fill="#2f7e93"/>
<line x1="408.67" y1="237.50" x2="408.67" y2="255.13" stroke="#46a1b7" stroke-width="1.4" stroke-opacity="0.82"/>
<circle cx="408.67" cy="247.22" r="1.4" fill="#2f7e93"/>
<line x1="409.07" y1="236.33" x2="409.07" y2="265.53" stroke="#46a1b7" stroke-width="1.4" stroke-opacity="0.82"/>
<circle cx="409.07" cy="253.86" r="1.4" fill="#2f7e93"/>
<line x1="404.31" y1="250.69" x2="404.31" y2="274.25" stroke="#46a1b7" stroke-width="1.4" stroke-opacity="0.82"/>
<circle cx="404.31" cy="260.44" r="1.4" fill="#2f7e93"/>
<line x1="403.50" y1="241.70" x2="403.50" y2="263.56" stroke="#46a1b7" stroke-width="1.4" stroke-opacity="0.82"/>
<circle cx="403.50" cy="255.71" r="1.4" fill="#2f7e93"/>
<line x1="402.73" y1="247.23" x2="402.73" y2="270.48" stroke="#46a1b7" stroke-width="1.4" stroke-opacity="0.82"/>
<circle cx="402.73" cy="259.30" r="1.4" fill="#2f7e93"/>
<line x1="408.92" y1="226.58" x2="408.92" y2="248.89" stroke="#46a1b7" stroke-width="1.4" stroke-opacity="0.82"/>
<circle cx="408.92" cy="237.06" r="1.4" fill="#2f7e93"/>
<line x1="406.30" y1="227.53" x2="406.30" y2="252.89" stroke="#46a1b7" stroke-width="1.4" stroke-opacity="0.82"/>
<circle cx="406.30" cy="241.60" r="1.4" fill="#2f7e93"/>
<line x1="404.99" y1="230.71" x2="404.99" y2="256.84" stroke="#46a1b7" stroke-width="1.4" stroke-opacity="0.82"/>
<circle cx="404.99" cy="241.54" r="1.4" fill="#2f7e93"/>
<line x1="405.30" y1="212.73" x2="405.30" y2="237.19" stroke="#46a1b7" stroke-width="1.4" stroke-opacity="0.82"/>
<circle cx="405.30" cy="229.48" r="1.4" fill="#2f7e93"/>
<line x1="404.80" y1="230.56" x2="404.80" y2="245.23" stroke="#46a1b7" stroke-width="1.4" stroke-opacity="0.82"/>
<circle cx="404.80" cy="238.86" r="1.4" fill="#2f7e93"/>
<line x1="407.03" y1="218.93" x2="407.03" y2="239.78" stroke="#46a1b7" stroke-width="1.4" stroke-opacity="0.82"/>
<circle cx="407.03" cy="233.25" r="1.4" fill="#2f7e93"/>
<line x1="408.95" y1="226.42" x2="408.95" y2="253.57" stroke="#46a1b7" stroke-width="1.4" stroke-opacity="0.82"/>
<circle cx="408.95" cy="242.58" r="1.4" fill="#2f7e93"/>
<line x1="409.44" y1="241.10" x2="409.44" y2="266.04" stroke="#46a1b7" stroke-width="1.4" stroke-opacity="0.82"/>
<circle cx="409.44" cy="252.77" r="1.4" fill="#2f7e93"/>
<line x1="407.99" y1="242.21" x2="407.99" y2="270.94" stroke="#46a1b7" stroke-width="1.4" stroke-opacity="0.82"/>
<circle cx="407.99" cy="255.51" r="1.4" fill="#2f7e93"/>
<line x1="406.94" y1="230.20" x2="406.94" y2="251.18" stroke="#46a1b7" stroke-width="1.4" stroke-opacity="0.82"/>
<circle cx="406.94" cy="238.26" r="1.4" fill="#2f7e93"/>
<line x1="402.79" y1="250.59" x2="402.79" y2="268.00" stroke="#46a1b7" stroke-width="1.4" stroke-opacity="0.82"/>
<circle cx="402.79" cy="260.82" r="1.4" fill="#2f7e93"/>
<line x1="408.56" y1="223.19" x2="408.56" y2="239.48" stroke="#46a1b7" stroke-width="1.4" stroke-opacity="0.82"/>
<circle cx="408.56" cy="232.50" r="1.4" fill="#2f7e93"/>
<line x1="404.91" y1="235.36" x2="404.91" y2="266.80" stroke="#46a1b7" stroke-width="1.4" stroke-opacity="0.82"/>
<circle cx="404.91" cy="252.46" r="1.4" fill="#2f7e93"/>
<line x1="408.44" y1="218.75" x2="408.44" y2="238.09" stroke="#46a1b7" stroke-width="1.4" stroke-opacity="0.82"/>
<circle cx="408.44" cy="227.19" r="1.4" fill="#2f7e93"/>
<line x1="407.53" y1="233.73" x2="407.53" y2="251.03" stroke="#8ccfdc" stroke-width="1.4" stroke-opacity="0.82"/>
<circle cx="407.53" cy="242.72" r="1.4" fill="#2f7e93"/>
<line x1="407.16" y1="215.01" x2="407.16" y2="244.14" stroke="#46a1b7" stroke-width="1.4" stroke-opacity="0.82"/>
<circle cx="407.16" cy="231.68" r="1.4" fill="#2f7e93"/>
<line x1="406.73" y1="215.68" x2="406.73" y2="233.82" stroke="#8ccfdc" stroke-width="1.4" stroke-opacity="0.82"/>
<circle cx="406.73" cy="227.52" r="1.4" fill="#2f7e93"/>
<line x1="406.92" y1="245.32" x2="406.92" y2="269.81" stroke="#8ccfdc" stroke-width="1.4" stroke-opacity="0.82"/>
<circle cx="406.92" cy="261.48" r="1.4" fill="#2f7e93"/>
<line x1="404.90" y1="241.29" x2="404.90" y2="263.19" stroke="#46a1b7" stroke-width="1.4" stroke-opacity="0.82"/>
<circle cx="404.90" cy="257.10" r="1.4" fill="#2f7e93"/>
<line x1="403.73" y1="238.18" x2="403.73" y2="266.41" stroke="#46a1b7" stroke-width="1.4" stroke-opacity="0.82"/>
<circle cx="403.73" cy="254.89" r="1.4" fill="#2f7e93"/>
<line x1="418.45" y1="237.92" x2="418.45" y2="252.26" stroke="#46a1b7" stroke-width="1.4" stroke-opacity="0.82"/>
<circle cx="418.45" cy="246.14" r="1.4" fill="#2f7e93"/>
<line x1="421.30" y1="246.19" x2="421.30" y2="266.32" stroke="#46a1b7" stroke-width="1.4" stroke-opacity="0.82"/>
<circle cx="421.30" cy="259.98" r="1.4" fill="#2f7e93"/>
<line x1="422.31" y1="239.26" x2="422.31" y2="256.87" stroke="#8ccfdc" stroke-width="1.4" stroke-opacity="0.82"/>
<circle cx="422.31" cy="250.51" r="1.4" fill="#2f7e93"/>
<line x1="416.39" y1="237.05" x2="416.39" y2="258.98" stroke="#46a1b7" stroke-width="1.4" stroke-opacity="0.82"/>
<circle cx="416.39" cy="247.19" r="1.4" fill="#2f7e93"/>
<line x1="423.90" y1="244.95" x2="423.90" y2="265.54" stroke="#46a1b7" stroke-width="1.4" stroke-opacity="0.82"/>
<circle cx="423.90" cy="255.16" r="1.4" fill="#2f7e93"/>
<line x1="421.14" y1="247.14" x2="421.14" y2="265.44" stroke="#8ccfdc" stroke-width="1.4" stroke-opacity="0.82"/>
<circle cx="421.14" cy="259.75" r="1.4" fill="#2f7e93"/>
<line x1="418.32" y1="249.37" x2="418.32" y2="269.87" stroke="#46a1b7" stroke-width="1.4" stroke-opacity="0.82"/>
<circle cx="418.32" cy="262.64" r="1.4" fill="#2f7e93"/>
<line x1="415.65" y1="249.82" x2="415.65" y2="270.70" stroke="#46a1b7" stroke-width="1.4" stroke-opacity="0.82"/>
<circle cx="415.65" cy="263.35" r="1.4" fill="#2f7e93"/>
<line x1="420.61" y1="240.82" x2="420.61" y2="255.74" stroke="#46a1b7" stroke-width="1.4" stroke-opacity="0.82"/>
<circle cx="420.61" cy="249.07" r="1.4" fill="#2f7e93"/>
<line x1="415.12" y1="234.00" x2="415.12" y2="248.25" stroke="#46a1b7" stroke-width="1.4" stroke-opacity="0.82"/>
<circle cx="415.12" cy="242.53" r="1.4" fill="#2f7e93"/>
<line x1="413.22" y1="243.17" x2="413.22" y2="259.97" stroke="#46a1b7" stroke-width="1.4" stroke-opacity="0.82"/>
<circle cx="413.22" cy="252.49" r="1.4" fill="#2f7e93"/>
<line x1="418.89" y1="247.64" x2="418.89" y2="268.12" stroke="#46a1b7" stroke-width="1.4" stroke-opacity="0.82"/>
<circle cx="418.89" cy="261.31" r="1.4" fill="#2f7e93"/>
<line x1="418.47" y1="239.76" x2="418.47" y2="253.46" stroke="#8ccfdc" stroke-width="1.4" stroke-opacity="0.82"/>
<circle cx="418.47" cy="246.79" r="1.4" fill="#2f7e93"/>
<line x1="411.26" y1="251.32" x2="411.26" y2="269.44" stroke="#46a1b7" stroke-width="1.4" stroke-opacity="0.82"/>
<circle cx="411.26" cy="263.88" r="1.4" fill="#2f7e93"/>
<line x1="418.32" y1="234.81" x2="418.32" y2="251.19" stroke="#46a1b7" stroke-width="1.4" stroke-opacity="0.82"/>
<circle cx="418.32" cy="243.52" r="1.4" fill="#2f7e93"/>
<line x1="417.61" y1="249.49" x2="417.61" y2="265.68" stroke="#46a1b7" stroke-width="1.4" stroke-opacity="0.82"/>
<circle cx="417.61" cy="255.87" r="1.4" fill="#2f7e93"/>
<line x1="416.09" y1="242.21" x2="416.09" y2="253.87" stroke="#46a1b7" stroke-width="1.4" stroke-opacity="0.82"/>
<circle cx="416.09" cy="248.29" r="1.4" fill="#2f7e93"/>
<line x1="422.56" y1="237.00" x2="422.56" y2="256.23" stroke="#8ccfdc" stroke-width="1.4" stroke-opacity="0.82"/>
<circle cx="422.56" cy="246.78" r="1.4" fill="#2f7e93"/>
<line x1="424.77" y1="246.45" x2="424.77" y2="261.55" stroke="#46a1b7" stroke-width="1.4" stroke-opacity="0.82"/>
<circle cx="424.77" cy="254.88" r="1.4" fill="#2f7e93"/>
<line x1="415.73" y1="240.30" x2="415.73" y2="256.98" stroke="#46a1b7" stroke-width="1.4" stroke-opacity="0.82"/>
<circle cx="415.73" cy="250.76" r="1.4" fill="#2f7e93"/>
<line x1="419.12" y1="252.01" x2="419.12" y2="270.35" stroke="#46a1b7" stroke-width="1.4" stroke-opacity="0.82"/>
<circle cx="419.12" cy="260.11" r="1.4" fill="#2f7e93"/>
<line x1="418.71" y1="246.42" x2="418.71" y2="266.22" stroke="#46a1b7" stroke-width="1.4" stroke-opacity="0.82"/>
<circle cx="418.71" cy="257.00" r="1.4" fill="#2f7e93"/>
<line x1="416.00" y1="250.57" x2="416.00" y2="269.74" stroke="#46a1b7" stroke-width="1.4" stroke-opacity="0.82"/>
<circle cx="416.00" cy="259.56" r="1.4" fill="#2f7e93"/>
<line x1="416.94" y1="232.93" x2="416.94" y2="250.14" stroke="#46a1b7" stroke-width="1.4" stroke-opacity="0.82"/>
<circle cx="416.94" cy="244.82" r="1.4" fill="#2f7e93"/>
<line x1="422.54" y1="233.35" x2="422.54" y2="254.79" stroke="#8ccfdc" stroke-width="1.4" stroke-opacity="0.82"/>
<circle cx="422.54" cy="244.79" r="1.4" fill="#2f7e93"/>
<line x1="416.27" y1="248.19" x2="416.27" y2="261.34" stroke="#46a1b7" stroke-width="1.4" stroke-opacity="0.82"/>
<circle cx="416.27" cy="256.28" r="1.4" fill="#2f7e93"/>
<line x1="404.00" y1="228.00" x2="404.00" y2="255.00" stroke="#46a1b7" stroke-width="1.4" stroke-opacity="0.8"/>
<line x1="391.20" y1="257.60" x2="391.20" y2="276.00" stroke="#d05548" stroke-width="1.4" stroke-opacity="0.8"/>
<circle cx="391.20" cy="267.00" r="1.6" fill="#bf2f2b"/>
<line x1="391.60" y1="265.00" x2="391.60" y2="280.00" stroke="#d05548" stroke-width="1.4" stroke-opacity="0.8"/>
<circle cx="391.60" cy="274.80" r="1.6" fill="#bf2f2b"/>
<line x1="394.30" y1="262.00" x2="394.30" y2="283.00" stroke="#d05548" stroke-width="1.4" stroke-opacity="0.8"/>
<circle cx="394.30" cy="274.80" r="1.6" fill="#bf2f2b"/>
<line x1="397.10" y1="258.00" x2="397.10" y2="276.00" stroke="#d05548" stroke-width="1.4" stroke-opacity="0.8"/>
<circle cx="397.10" cy="266.70" r="1.6" fill="#bf2f2b"/>
<line x1="398.70" y1="262.00" x2="398.70" y2="280.00" stroke="#d05548" stroke-width="1.4" stroke-opacity="0.8"/>
<circle cx="398.70" cy="271.50" r="1.6" fill="#bf2f2b"/>
<line x1="400.10" y1="264.00" x2="400.10" y2="281.00" stroke="#d05548" stroke-width="1.4" stroke-opacity="0.8"/>
<circle cx="400.10" cy="272.70" r="1.6" fill="#bf2f2b"/>
<line x1="401.00" y1="268.00" x2="401.00" y2="285.00" stroke="#d05548" stroke-width="1.4" stroke-opacity="0.8"/>
<circle cx="401.00" cy="277.00" r="1.6" fill="#bf2f2b"/>
<line x1="408.20" y1="262.00" x2="408.20" y2="280.00" stroke="#d05548" stroke-width="1.4" stroke-opacity="0.8"/>
<circle cx="408.20" cy="272.60" r="1.6" fill="#bf2f2b"/>
<line x1="409.80" y1="258.00" x2="409.80" y2="276.00" stroke="#d05548" stroke-width="1.4" stroke-opacity="0.8"/>
<circle cx="409.80" cy="268.20" r="1.6" fill="#bf2f2b"/>
<line x1="430.40" y1="256.00" x2="430.40" y2="276.00" stroke="#d05548" stroke-width="1.4" stroke-opacity="0.8"/>
<circle cx="430.40" cy="266.00" r="1.6" fill="#bf2f2b"/>
<line x1="431.00" y1="259.00" x2="431.00" y2="277.00" stroke="#d05548" stroke-width="1.4" stroke-opacity="0.8"/>
<circle cx="431.00" cy="267.00" r="1.6" fill="#bf2f2b"/>
<line x1="432.60" y1="266.00" x2="432.60" y2="283.00" stroke="#d05548" stroke-width="1.4" stroke-opacity="0.8"/>
<circle cx="432.60" cy="274.80" r="1.6" fill="#bf2f2b"/>
<line x1="439.20" y1="256.00" x2="439.20" y2="274.00" stroke="#d05548" stroke-width="1.4" stroke-opacity="0.8"/>
<circle cx="439.20" cy="264.90" r="1.6" fill="#bf2f2b"/>
<line x1="443.00" y1="270.00" x2="443.00" y2="286.00" stroke="#d05548" stroke-width="1.4" stroke-opacity="0.8"/>
<circle cx="443.00" cy="278.10" r="1.6" fill="#bf2f2b"/>
<line x1="435.50" y1="230.60" x2="435.50" y2="262.40" stroke="#8ccfdc" stroke-width="1.4" stroke-opacity="0.8"/>
<circle cx="435.50" cy="253.40" r="1.6" fill="#2f7e93"/>
<line x1="437.80" y1="230.00" x2="437.80" y2="262.00" stroke="#78a8bb" stroke-width="1.4" stroke-opacity="0.8"/>
<circle cx="437.80" cy="254.00" r="1.6" fill="#2f7e93"/>
<line x1="449.60" y1="225.80" x2="449.60" y2="268.50" stroke="#78a8bb" stroke-width="1.4" stroke-opacity="0.8"/>
<circle cx="449.60" cy="253.80" r="1.6" fill="#2f7e93"/>
<line x1="476.90" y1="231.70" x2="476.90" y2="269.70" stroke="#78a8bb" stroke-width="1.4" stroke-opacity="0.8"/>
<circle cx="476.90" cy="256.60" r="1.6" fill="#2f7e93"/>
<rect x="384.60" y="183.45" width="117.65" height="117.05" fill="none" stroke="#7c7c7c" stroke-width="1.25"/>
<line x1="391.30" y1="300.50" x2="391.30" y2="305.10" stroke="#bdbdbd" stroke-width="0.8"/>
<line x1="418.90" y1="300.50" x2="418.90" y2="305.10" stroke="#bdbdbd" stroke-width="0.8"/>
<line x1="446.50" y1="300.50" x2="446.50" y2="305.10" stroke="#bdbdbd" stroke-width="0.8"/>
<line x1="474.10" y1="300.50" x2="474.10" y2="305.10" stroke="#bdbdbd" stroke-width="0.8"/>
<line x1="501.70" y1="300.50" x2="501.70" y2="305.10" stroke="#bdbdbd" stroke-width="0.8"/>
<text x="391.30" y="315.35" font-size="7.8" text-anchor="middle" font-weight="normal" fill="#1a1a1a" stroke="#1a1a1a" stroke-width="0.32">0.0</text>
<text x="418.90" y="315.35" font-size="7.8" text-anchor="middle" font-weight="normal" fill="#1a1a1a" stroke="#1a1a1a" stroke-width="0.32">0.2</text>
<text x="446.50" y="315.35" font-size="7.8" text-anchor="middle" font-weight="normal" fill="#1a1a1a" stroke="#1a1a1a" stroke-width="0.32">0.4</text>
<text x="474.10" y="315.35" font-size="7.8" text-anchor="middle" font-weight="normal" fill="#1a1a1a" stroke="#1a1a1a" stroke-width="0.32">0.6</text>
<text x="501.70" y="315.35" font-size="7.8" text-anchor="middle" font-weight="normal" fill="#1a1a1a" stroke="#1a1a1a" stroke-width="0.32">0.8</text>
<text x="443.62" y="326.50" font-size="7.75" text-anchor="middle" font-weight="normal" fill="#1a1a1a" stroke="#1a1a1a" stroke-width="0.32">Fraction of heteroatoms</text>
<line x1="380.00" y1="296.30" x2="384.60" y2="296.30" stroke="#bdbdbd" stroke-width="0.8"/>
<text x="376.00" y="296.30" font-size="7.6" text-anchor="middle" font-weight="normal" fill="#1a1a1a" stroke="#1a1a1a" stroke-width="0.32" transform="rotate(-90 376.00 296.30)">0.0</text>
<line x1="380.00" y1="274.55" x2="384.60" y2="274.55" stroke="#bdbdbd" stroke-width="0.8"/>
<text x="376.00" y="274.55" font-size="7.6" text-anchor="middle" font-weight="normal" fill="#1a1a1a" stroke="#1a1a1a" stroke-width="0.32" transform="rotate(-90 376.00 274.55)">0.5</text>
<line x1="380.00" y1="252.80" x2="384.60" y2="252.80" stroke="#bdbdbd" stroke-width="0.8"/>
<text x="376.00" y="252.80" font-size="7.6" text-anchor="middle" font-weight="normal" fill="#1a1a1a" stroke="#1a1a1a" stroke-width="0.32" transform="rotate(-90 376.00 252.80)">1.0</text>
<line x1="380.00" y1="231.05" x2="384.60" y2="231.05" stroke="#bdbdbd" stroke-width="0.8"/>
<text x="376.00" y="231.05" font-size="7.6" text-anchor="middle" font-weight="normal" fill="#1a1a1a" stroke="#1a1a1a" stroke-width="0.32" transform="rotate(-90 376.00 231.05)">1.5</text>
<line x1="380.00" y1="209.30" x2="384.60" y2="209.30" stroke="#bdbdbd" stroke-width="0.8"/>
<text x="376.00" y="209.30" font-size="7.6" text-anchor="middle" font-weight="normal" fill="#1a1a1a" stroke="#1a1a1a" stroke-width="0.32" transform="rotate(-90 376.00 209.30)">2.0</text>
<line x1="380.00" y1="187.55" x2="384.60" y2="187.55" stroke="#bdbdbd" stroke-width="0.8"/>
<text x="376.00" y="187.55" font-size="7.6" text-anchor="middle" font-weight="normal" fill="#1a1a1a" stroke="#1a1a1a" stroke-width="0.32" transform="rotate(-90 376.00 187.55)">2.5</text>
<text x="364.60" y="241.97" font-size="7.8" text-anchor="middle" font-weight="normal" fill="#1a1a1a" stroke="#1a1a1a" stroke-width="0.32" transform="rotate(-90 364.60 241.97)">&lt; Z^2 &gt;</text>
<text x="502.25" y="177.55" font-size="7.4" text-anchor="end" font-weight="normal" fill="#1a1a1a" stroke="#1a1a1a" stroke-width="0.12">(f)</text>
<text x="504.45" y="185.45" font-size="5.7" text-anchor="start" font-weight="bold" fill="#111" stroke="#111" stroke-width="0.12">Mean</text>
<line x1="38.80" y1="427.61" x2="156.30" y2="427.61" stroke="#95c8bd" stroke-width="1" stroke-dasharray="2 1.6"/>
<line x1="38.80" y1="463.29" x2="156.30" y2="463.29" stroke="#95c8bd" stroke-width="1" stroke-dasharray="2 1.6"/>
<line x1="38.80" y1="445.45" x2="156.30" y2="445.45" stroke="#555" stroke-width="1.1"/>
<line x1="43.30" y1="445.45" x2="43.30" y2="354.45" stroke="#666" stroke-width="1.1"/>
<line x1="48.77" y1="445.45" x2="48.77" y2="429.34" stroke="#666" stroke-width="1.1"/>
<line x1="54.23" y1="445.45" x2="54.23" y2="441.45" stroke="#666" stroke-width="1.1"/>
<line x1="59.69" y1="445.45" x2="59.69" y2="439.90" stroke="#666" stroke-width="1.1"/>
<line x1="65.16" y1="445.45" x2="65.16" y2="437.35" stroke="#666" stroke-width="1.1"/>
<line x1="70.62" y1="445.45" x2="70.62" y2="427.89" stroke="#666" stroke-width="1.1"/>
<line x1="76.09" y1="445.45" x2="76.09" y2="433.89" stroke="#666" stroke-width="1.1"/>
<line x1="81.55" y1="445.45" x2="81.55" y2="443.18" stroke="#666" stroke-width="1.1"/>
<line x1="87.02" y1="445.45" x2="87.02" y2="438.53" stroke="#666" stroke-width="1.1"/>
<line x1="92.48" y1="445.45" x2="92.48" y2="439.90" stroke="#666" stroke-width="1.1"/>
<line x1="97.95" y1="445.45" x2="97.95" y2="439.08" stroke="#666" stroke-width="1.1"/>
<line x1="103.41" y1="445.45" x2="103.41" y2="445.09" stroke="#666" stroke-width="1.1"/>
<line x1="108.88" y1="445.45" x2="108.88" y2="440.63" stroke="#666" stroke-width="1.1"/>
<line x1="114.34" y1="445.45" x2="114.34" y2="435.08" stroke="#666" stroke-width="1.1"/>
<line x1="119.81" y1="445.45" x2="119.81" y2="448.36" stroke="#666" stroke-width="1.1"/>
<line x1="125.27" y1="445.45" x2="125.27" y2="460.65" stroke="#666" stroke-width="1.1"/>
<line x1="130.74" y1="445.45" x2="130.74" y2="446.36" stroke="#666" stroke-width="1.1"/>
<line x1="136.20" y1="445.45" x2="136.20" y2="437.62" stroke="#666" stroke-width="1.1"/>
<line x1="141.67" y1="445.45" x2="141.67" y2="441.45" stroke="#666" stroke-width="1.1"/>
<line x1="147.13" y1="445.45" x2="147.13" y2="432.53" stroke="#666" stroke-width="1.1"/>
<line x1="152.60" y1="445.45" x2="152.60" y2="453.73" stroke="#666" stroke-width="1.1"/>
<rect x="38.80" y="350.10" width="117.50" height="117.70" fill="none" stroke="#7c7c7c" stroke-width="1.25"/>
<line x1="43.30" y1="467.80" x2="43.30" y2="472.40" stroke="#bdbdbd" stroke-width="0.8"/>
<text x="43.30" y="482.65" font-size="7.8" text-anchor="middle" font-weight="normal" fill="#1a1a1a" stroke="#1a1a1a" stroke-width="0.32">0</text>
<line x1="70.62" y1="467.80" x2="70.62" y2="472.40" stroke="#bdbdbd" stroke-width="0.8"/>
<text x="70.62" y="482.65" font-size="7.8" text-anchor="middle" font-weight="normal" fill="#1a1a1a" stroke="#1a1a1a" stroke-width="0.32">5</text>
<line x1="97.95" y1="467.80" x2="97.95" y2="472.40" stroke="#bdbdbd" stroke-width="0.8"/>
<text x="97.95" y="482.65" font-size="7.8" text-anchor="middle" font-weight="normal" fill="#1a1a1a" stroke="#1a1a1a" stroke-width="0.32">10</text>
<line x1="125.27" y1="467.80" x2="125.27" y2="472.40" stroke="#bdbdbd" stroke-width="0.8"/>
<text x="125.27" y="482.65" font-size="7.8" text-anchor="middle" font-weight="normal" fill="#1a1a1a" stroke="#1a1a1a" stroke-width="0.32">15</text>
<line x1="152.60" y1="467.80" x2="152.60" y2="472.40" stroke="#bdbdbd" stroke-width="0.8"/>
<text x="152.60" y="482.65" font-size="7.8" text-anchor="middle" font-weight="normal" fill="#1a1a1a" stroke="#1a1a1a" stroke-width="0.32">20</text>
<text x="97.55" y="494.15" font-size="7.8" text-anchor="middle" font-weight="normal" fill="#1a1a1a" stroke="#1a1a1a" stroke-width="0.32">Lag</text>
<line x1="34.20" y1="463.65" x2="38.80" y2="463.65" stroke="#bdbdbd" stroke-width="0.8"/>
<text x="30.20" y="463.65" font-size="7.6" text-anchor="middle" font-weight="normal" fill="#1a1a1a" stroke="#1a1a1a" stroke-width="0.32" transform="rotate(-90 30.20 463.65)">-0.2</text>
<line x1="34.20" y1="445.45" x2="38.80" y2="445.45" stroke="#bdbdbd" stroke-width="0.8"/>
<line x1="34.20" y1="427.25" x2="38.80" y2="427.25" stroke="#bdbdbd" stroke-width="0.8"/>
<text x="30.20" y="427.25" font-size="7.6" text-anchor="middle" font-weight="normal" fill="#1a1a1a" stroke="#1a1a1a" stroke-width="0.32" transform="rotate(-90 30.20 427.25)">0.2</text>
<line x1="34.20" y1="409.05" x2="38.80" y2="409.05" stroke="#bdbdbd" stroke-width="0.8"/>
<text x="30.20" y="409.05" font-size="7.6" text-anchor="middle" font-weight="normal" fill="#1a1a1a" stroke="#1a1a1a" stroke-width="0.32" transform="rotate(-90 30.20 409.05)">0.4</text>
<line x1="34.20" y1="390.85" x2="38.80" y2="390.85" stroke="#bdbdbd" stroke-width="0.8"/>
<text x="30.20" y="390.85" font-size="7.6" text-anchor="middle" font-weight="normal" fill="#1a1a1a" stroke="#1a1a1a" stroke-width="0.32" transform="rotate(-90 30.20 390.85)">0.6</text>
<line x1="34.20" y1="372.65" x2="38.80" y2="372.65" stroke="#bdbdbd" stroke-width="0.8"/>
<text x="30.20" y="372.65" font-size="7.6" text-anchor="middle" font-weight="normal" fill="#1a1a1a" stroke="#1a1a1a" stroke-width="0.32" transform="rotate(-90 30.20 372.65)">0.8</text>
<line x1="34.20" y1="354.45" x2="38.80" y2="354.45" stroke="#bdbdbd" stroke-width="0.8"/>
<text x="30.20" y="354.45" font-size="7.6" text-anchor="middle" font-weight="normal" fill="#1a1a1a" stroke="#1a1a1a" stroke-width="0.32" transform="rotate(-90 30.20 354.45)">1.0</text>
<text x="18.80" y="408.95" font-size="7.8" text-anchor="middle" font-weight="normal" fill="#1a1a1a" stroke="#1a1a1a" stroke-width="0.32" transform="rotate(-90 18.80 408.95)">ACF</text>
<text x="156.30" y="344.20" font-size="7.4" text-anchor="end" font-weight="normal" fill="#1a1a1a" stroke="#1a1a1a" stroke-width="0.12">(g)</text>
<line x1="217.60" y1="427.61" x2="335.10" y2="427.61" stroke="#95c8bd" stroke-width="1" stroke-dasharray="2 1.6"/>
<line x1="217.60" y1="463.29" x2="335.10" y2="463.29" stroke="#95c8bd" stroke-width="1" stroke-dasharray="2 1.6"/>
<line x1="217.60" y1="445.45" x2="335.10" y2="445.45" stroke="#555" stroke-width="1.1"/>
<line x1="222.10" y1="445.45" x2="222.10" y2="354.45" stroke="#666" stroke-width="1.1"/>
<line x1="227.56" y1="445.45" x2="227.56" y2="396.95" stroke="#666" stroke-width="1.1"/>
<line x1="233.03" y1="445.45" x2="233.03" y2="408.87" stroke="#666" stroke-width="1.1"/>
<line x1="238.50" y1="445.45" x2="238.50" y2="418.88" stroke="#666" stroke-width="1.1"/>
<line x1="243.96" y1="445.45" x2="243.96" y2="424.88" stroke="#666" stroke-width="1.1"/>
<line x1="249.43" y1="445.45" x2="249.43" y2="421.88" stroke="#666" stroke-width="1.1"/>
<line x1="254.89" y1="445.45" x2="254.89" y2="417.88" stroke="#666" stroke-width="1.1"/>
<line x1="260.36" y1="445.45" x2="260.36" y2="417.42" stroke="#666" stroke-width="1.1"/>
<line x1="265.82" y1="445.45" x2="265.82" y2="409.41" stroke="#666" stroke-width="1.1"/>
<line x1="271.29" y1="445.45" x2="271.29" y2="418.06" stroke="#666" stroke-width="1.1"/>
<line x1="276.75" y1="445.45" x2="276.75" y2="417.06" stroke="#666" stroke-width="1.1"/>
<line x1="282.22" y1="445.45" x2="282.22" y2="424.43" stroke="#666" stroke-width="1.1"/>
<line x1="287.68" y1="445.45" x2="287.68" y2="424.88" stroke="#666" stroke-width="1.1"/>
<line x1="293.14" y1="445.45" x2="293.14" y2="419.06" stroke="#666" stroke-width="1.1"/>
<line x1="298.61" y1="445.45" x2="298.61" y2="426.07" stroke="#666" stroke-width="1.1"/>
<line x1="304.07" y1="445.45" x2="304.07" y2="426.80" stroke="#666" stroke-width="1.1"/>
<line x1="309.54" y1="445.45" x2="309.54" y2="432.53" stroke="#666" stroke-width="1.1"/>
<line x1="315.00" y1="445.45" x2="315.00" y2="428.52" stroke="#666" stroke-width="1.1"/>
<line x1="320.47" y1="445.45" x2="320.47" y2="426.07" stroke="#666" stroke-width="1.1"/>
<line x1="325.94" y1="445.45" x2="325.94" y2="423.43" stroke="#666" stroke-width="1.1"/>
<line x1="331.40" y1="445.45" x2="331.40" y2="427.43" stroke="#666" stroke-width="1.1"/>
<rect x="217.60" y="350.10" width="117.50" height="117.70" fill="none" stroke="#7c7c7c" stroke-width="1.25"/>
<line x1="222.10" y1="467.80" x2="222.10" y2="472.40" stroke="#bdbdbd" stroke-width="0.8"/>
<text x="222.10" y="482.65" font-size="7.8" text-anchor="middle" font-weight="normal" fill="#1a1a1a" stroke="#1a1a1a" stroke-width="0.32">0</text>
<line x1="249.43" y1="467.80" x2="249.43" y2="472.40" stroke="#bdbdbd" stroke-width="0.8"/>
<text x="249.43" y="482.65" font-size="7.8" text-anchor="middle" font-weight="normal" fill="#1a1a1a" stroke="#1a1a1a" stroke-width="0.32">5</text>
<line x1="276.75" y1="467.80" x2="276.75" y2="472.40" stroke="#bdbdbd" stroke-width="0.8"/>
<text x="276.75" y="482.65" font-size="7.8" text-anchor="middle" font-weight="normal" fill="#1a1a1a" stroke="#1a1a1a" stroke-width="0.32">10</text>
<line x1="304.07" y1="467.80" x2="304.07" y2="472.40" stroke="#bdbdbd" stroke-width="0.8"/>
<text x="304.07" y="482.65" font-size="7.8" text-anchor="middle" font-weight="normal" fill="#1a1a1a" stroke="#1a1a1a" stroke-width="0.32">15</text>
<line x1="331.40" y1="467.80" x2="331.40" y2="472.40" stroke="#bdbdbd" stroke-width="0.8"/>
<text x="331.40" y="482.65" font-size="7.8" text-anchor="middle" font-weight="normal" fill="#1a1a1a" stroke="#1a1a1a" stroke-width="0.32">20</text>
<text x="276.35" y="494.15" font-size="7.8" text-anchor="middle" font-weight="normal" fill="#1a1a1a" stroke="#1a1a1a" stroke-width="0.32">Lag</text>
<line x1="213.00" y1="463.65" x2="217.60" y2="463.65" stroke="#bdbdbd" stroke-width="0.8"/>
<text x="209.00" y="463.65" font-size="7.6" text-anchor="middle" font-weight="normal" fill="#1a1a1a" stroke="#1a1a1a" stroke-width="0.32" transform="rotate(-90 209.00 463.65)">-0.2</text>
<line x1="213.00" y1="445.45" x2="217.60" y2="445.45" stroke="#bdbdbd" stroke-width="0.8"/>
<line x1="213.00" y1="427.25" x2="217.60" y2="427.25" stroke="#bdbdbd" stroke-width="0.8"/>
<text x="209.00" y="427.25" font-size="7.6" text-anchor="middle" font-weight="normal" fill="#1a1a1a" stroke="#1a1a1a" stroke-width="0.32" transform="rotate(-90 209.00 427.25)">0.2</text>
<line x1="213.00" y1="409.05" x2="217.60" y2="409.05" stroke="#bdbdbd" stroke-width="0.8"/>
<text x="209.00" y="409.05" font-size="7.6" text-anchor="middle" font-weight="normal" fill="#1a1a1a" stroke="#1a1a1a" stroke-width="0.32" transform="rotate(-90 209.00 409.05)">0.4</text>
<line x1="213.00" y1="390.85" x2="217.60" y2="390.85" stroke="#bdbdbd" stroke-width="0.8"/>
<text x="209.00" y="390.85" font-size="7.6" text-anchor="middle" font-weight="normal" fill="#1a1a1a" stroke="#1a1a1a" stroke-width="0.32" transform="rotate(-90 209.00 390.85)">0.6</text>
<line x1="213.00" y1="372.65" x2="217.60" y2="372.65" stroke="#bdbdbd" stroke-width="0.8"/>
<text x="209.00" y="372.65" font-size="7.6" text-anchor="middle" font-weight="normal" fill="#1a1a1a" stroke="#1a1a1a" stroke-width="0.32" transform="rotate(-90 209.00 372.65)">0.8</text>
<line x1="213.00" y1="354.45" x2="217.60" y2="354.45" stroke="#bdbdbd" stroke-width="0.8"/>
<text x="209.00" y="354.45" font-size="7.6" text-anchor="middle" font-weight="normal" fill="#1a1a1a" stroke="#1a1a1a" stroke-width="0.32" transform="rotate(-90 209.00 354.45)">1.0</text>
<text x="197.60" y="408.95" font-size="7.8" text-anchor="middle" font-weight="normal" fill="#1a1a1a" stroke="#1a1a1a" stroke-width="0.32" transform="rotate(-90 197.60 408.95)">ACF</text>
<text x="335.10" y="344.20" font-size="7.4" text-anchor="end" font-weight="normal" fill="#1a1a1a" stroke="#1a1a1a" stroke-width="0.12">(h)</text>
<line x1="396.00" y1="427.61" x2="513.50" y2="427.61" stroke="#95c8bd" stroke-width="1" stroke-dasharray="2 1.6"/>
<line x1="396.00" y1="463.29" x2="513.50" y2="463.29" stroke="#95c8bd" stroke-width="1" stroke-dasharray="2 1.6"/>
<line x1="396.00" y1="445.45" x2="513.50" y2="445.45" stroke="#555" stroke-width="1.1"/>
<line x1="400.50" y1="445.45" x2="400.50" y2="354.45" stroke="#666" stroke-width="1.1"/>
<line x1="405.96" y1="445.45" x2="405.96" y2="397.58" stroke="#666" stroke-width="1.1"/>
<line x1="411.43" y1="445.45" x2="411.43" y2="402.04" stroke="#666" stroke-width="1.1"/>
<line x1="416.89" y1="445.45" x2="416.89" y2="412.42" stroke="#666" stroke-width="1.1"/>
<line x1="422.36" y1="445.45" x2="422.36" y2="413.05" stroke="#666" stroke-width="1.1"/>
<line x1="427.82" y1="445.45" x2="427.82" y2="412.42" stroke="#666" stroke-width="1.1"/>
<line x1="433.29" y1="445.45" x2="433.29" y2="425.34" stroke="#666" stroke-width="1.1"/>
<line x1="438.75" y1="445.45" x2="438.75" y2="427.89" stroke="#666" stroke-width="1.1"/>
<line x1="444.22" y1="445.45" x2="444.22" y2="432.44" stroke="#666" stroke-width="1.1"/>
<line x1="449.69" y1="445.45" x2="449.69" y2="433.71" stroke="#666" stroke-width="1.1"/>
<line x1="455.15" y1="445.45" x2="455.15" y2="430.44" stroke="#666" stroke-width="1.1"/>
<line x1="460.62" y1="445.45" x2="460.62" y2="441.81" stroke="#666" stroke-width="1.1"/>
<line x1="466.08" y1="445.45" x2="466.08" y2="443.63" stroke="#666" stroke-width="1.1"/>
<line x1="471.54" y1="445.45" x2="471.54" y2="453.00" stroke="#666" stroke-width="1.1"/>
<line x1="477.01" y1="445.45" x2="477.01" y2="442.72" stroke="#666" stroke-width="1.1"/>
<line x1="482.47" y1="445.45" x2="482.47" y2="449.00" stroke="#666" stroke-width="1.1"/>
<line x1="487.94" y1="445.45" x2="487.94" y2="449.36" stroke="#666" stroke-width="1.1"/>
<line x1="493.40" y1="445.45" x2="493.40" y2="446.09" stroke="#666" stroke-width="1.1"/>
<line x1="498.87" y1="445.45" x2="498.87" y2="453.64" stroke="#666" stroke-width="1.1"/>
<line x1="504.33" y1="445.45" x2="504.33" y2="445.18" stroke="#666" stroke-width="1.1"/>
<line x1="509.80" y1="445.45" x2="509.80" y2="452.82" stroke="#666" stroke-width="1.1"/>
<rect x="396.00" y="350.10" width="117.50" height="117.70" fill="none" stroke="#7c7c7c" stroke-width="1.25"/>
<line x1="400.50" y1="467.80" x2="400.50" y2="472.40" stroke="#bdbdbd" stroke-width="0.8"/>
<text x="400.50" y="482.65" font-size="7.8" text-anchor="middle" font-weight="normal" fill="#1a1a1a" stroke="#1a1a1a" stroke-width="0.32">0</text>
<line x1="427.82" y1="467.80" x2="427.82" y2="472.40" stroke="#bdbdbd" stroke-width="0.8"/>
<text x="427.82" y="482.65" font-size="7.8" text-anchor="middle" font-weight="normal" fill="#1a1a1a" stroke="#1a1a1a" stroke-width="0.32">5</text>
<line x1="455.15" y1="467.80" x2="455.15" y2="472.40" stroke="#bdbdbd" stroke-width="0.8"/>
<text x="455.15" y="482.65" font-size="7.8" text-anchor="middle" font-weight="normal" fill="#1a1a1a" stroke="#1a1a1a" stroke-width="0.32">10</text>
<line x1="482.47" y1="467.80" x2="482.47" y2="472.40" stroke="#bdbdbd" stroke-width="0.8"/>
<text x="482.47" y="482.65" font-size="7.8" text-anchor="middle" font-weight="normal" fill="#1a1a1a" stroke="#1a1a1a" stroke-width="0.32">15</text>
<line x1="509.80" y1="467.80" x2="509.80" y2="472.40" stroke="#bdbdbd" stroke-width="0.8"/>
<text x="509.80" y="482.65" font-size="7.8" text-anchor="middle" font-weight="normal" fill="#1a1a1a" stroke="#1a1a1a" stroke-width="0.32">20</text>
<text x="454.75" y="494.15" font-size="7.8" text-anchor="middle" font-weight="normal" fill="#1a1a1a" stroke="#1a1a1a" stroke-width="0.32">Lag</text>
<line x1="391.40" y1="463.65" x2="396.00" y2="463.65" stroke="#bdbdbd" stroke-width="0.8"/>
<text x="387.40" y="463.65" font-size="7.6" text-anchor="middle" font-weight="normal" fill="#1a1a1a" stroke="#1a1a1a" stroke-width="0.32" transform="rotate(-90 387.40 463.65)">-0.2</text>
<line x1="391.40" y1="445.45" x2="396.00" y2="445.45" stroke="#bdbdbd" stroke-width="0.8"/>
<line x1="391.40" y1="427.25" x2="396.00" y2="427.25" stroke="#bdbdbd" stroke-width="0.8"/>
<text x="387.40" y="427.25" font-size="7.6" text-anchor="middle" font-weight="normal" fill="#1a1a1a" stroke="#1a1a1a" stroke-width="0.32" transform="rotate(-90 387.40 427.25)">0.2</text>
<line x1="391.40" y1="409.05" x2="396.00" y2="409.05" stroke="#bdbdbd" stroke-width="0.8"/>
<text x="387.40" y="409.05" font-size="7.6" text-anchor="middle" font-weight="normal" fill="#1a1a1a" stroke="#1a1a1a" stroke-width="0.32" transform="rotate(-90 387.40 409.05)">0.4</text>
<line x1="391.40" y1="390.85" x2="396.00" y2="390.85" stroke="#bdbdbd" stroke-width="0.8"/>
<text x="387.40" y="390.85" font-size="7.6" text-anchor="middle" font-weight="normal" fill="#1a1a1a" stroke="#1a1a1a" stroke-width="0.32" transform="rotate(-90 387.40 390.85)">0.6</text>
<line x1="391.40" y1="372.65" x2="396.00" y2="372.65" stroke="#bdbdbd" stroke-width="0.8"/>
<text x="387.40" y="372.65" font-size="7.6" text-anchor="middle" font-weight="normal" fill="#1a1a1a" stroke="#1a1a1a" stroke-width="0.32" transform="rotate(-90 387.40 372.65)">0.8</text>
<line x1="391.40" y1="354.45" x2="396.00" y2="354.45" stroke="#bdbdbd" stroke-width="0.8"/>
<text x="387.40" y="354.45" font-size="7.6" text-anchor="middle" font-weight="normal" fill="#1a1a1a" stroke="#1a1a1a" stroke-width="0.32" transform="rotate(-90 387.40 354.45)">1.0</text>
<text x="376.00" y="408.95" font-size="7.8" text-anchor="middle" font-weight="normal" fill="#1a1a1a" stroke="#1a1a1a" stroke-width="0.32" transform="rotate(-90 376.00 408.95)">ACF</text>
<text x="513.50" y="344.20" font-size="7.4" text-anchor="end" font-weight="normal" fill="#1a1a1a" stroke="#1a1a1a" stroke-width="0.12">(i)</text>
</svg></body></html>
